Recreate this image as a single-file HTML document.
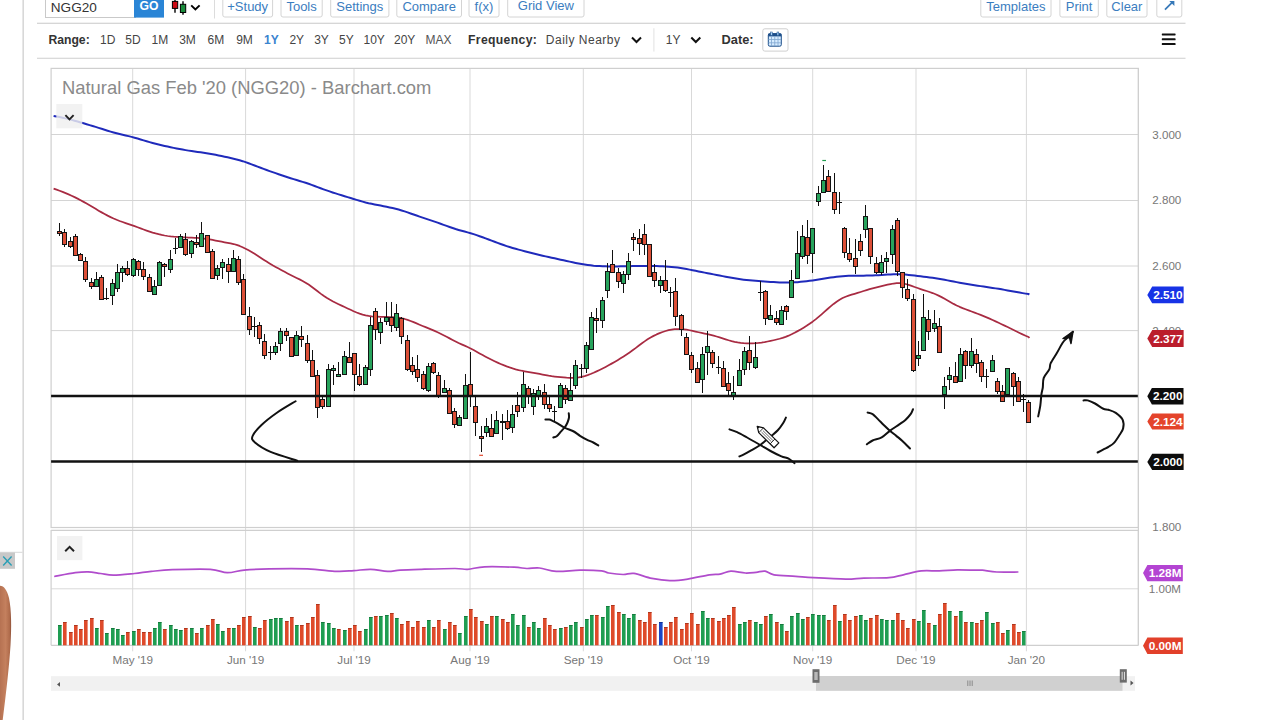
<!DOCTYPE html><html><head><meta charset="utf-8"><title>NGG20 Barchart</title><style>
html,body{margin:0;padding:0;background:#fff;}body{width:1280px;height:720px;overflow:hidden;position:relative;}
svg{position:absolute;left:0;top:0;display:block;}
text{font-family:"Liberation Sans", Arial, sans-serif;}
</style></head><body>
<svg width="1280" height="720" viewBox="0 0 1280 720">
<rect x="0" y="0" width="1280" height="720" fill="#fff"/>
<rect x="22.5" y="0" width="1.3" height="720" fill="#cfcfcf"/>
<rect x="37" y="22.7" width="1148.5" height="1.2" fill="#d2d2d2"/>
<rect x="37" y="57.7" width="1148.5" height="1.2" fill="#d6d6d6"/>
<rect x="45.5" y="-5" width="90" height="22.5" fill="#fff" stroke="#c9c9c9" stroke-width="1"/>
<text x="50.8" y="12.1" font-size="13.6" fill="#333">NGG20</text>
<rect x="134" y="-5" width="30" height="22.6" fill="#2a85d6"/>
<text x="149" y="10.3" font-size="12.2" font-weight="bold" fill="#fff" text-anchor="middle">GO</text>
<line x1="175" y1="0" x2="175" y2="12.7" stroke="#000" stroke-width="1.4"/>
<rect x="172.4" y="1.4" width="5.3" height="7" fill="#cc0a14" stroke="#000" stroke-width="1"/>
<line x1="183" y1="1.2" x2="183" y2="14.8" stroke="#000" stroke-width="1.4"/>
<rect x="180.4" y="4.3" width="5.3" height="8.2" fill="#1a8c3c" stroke="#000" stroke-width="1"/>
<polyline points="191.2,5.3 195.4,9.5 199.6,5.3" fill="none" stroke="#000" stroke-width="1.9"/>
<rect x="214" y="0" width="1" height="18.5" fill="#dcdcdc"/>
<rect x="222.8" y="-6" width="49.8" height="23" rx="2" fill="#fff" stroke="#d4d4d4" stroke-width="1"/>
<text x="247.7" y="11.3" font-size="13" fill="#3b7dc0" text-anchor="middle">+Study</text>
<rect x="281" y="-6" width="41.2" height="23" rx="2" fill="#fff" stroke="#d4d4d4" stroke-width="1"/>
<text x="301.6" y="11.3" font-size="13" fill="#3b7dc0" text-anchor="middle">Tools</text>
<rect x="330.7" y="-6" width="58.2" height="23" rx="2" fill="#fff" stroke="#d4d4d4" stroke-width="1"/>
<text x="359.8" y="11.3" font-size="13" fill="#3b7dc0" text-anchor="middle">Settings</text>
<rect x="396.8" y="-6" width="64.7" height="23" rx="2" fill="#fff" stroke="#d4d4d4" stroke-width="1"/>
<text x="429.15" y="11.3" font-size="13" fill="#3b7dc0" text-anchor="middle">Compare</text>
<rect x="469" y="-6" width="30" height="23" rx="2" fill="#fff" stroke="#d4d4d4" stroke-width="1"/>
<text x="484" y="11.3" font-size="13" fill="#3b7dc0" text-anchor="middle">f(x)</text>
<rect x="507.7" y="-6" width="76.3" height="23" rx="2" fill="#fff" stroke="#d4d4d4" stroke-width="1"/>
<text x="545.85" y="9.6" font-size="13" fill="#3b7dc0" text-anchor="middle">Grid View</text>
<rect x="980.8" y="-6" width="70.2" height="23" rx="2" fill="#fff" stroke="#d4d4d4" stroke-width="1"/>
<text x="1015.9" y="11.3" font-size="13" fill="#3b7dc0" text-anchor="middle">Templates</text>
<rect x="1059.9" y="-6" width="38.4" height="23" rx="2" fill="#fff" stroke="#d4d4d4" stroke-width="1"/>
<text x="1079.1" y="11.3" font-size="13" fill="#3b7dc0" text-anchor="middle">Print</text>
<rect x="1106.8" y="-6" width="40.2" height="23" rx="2" fill="#fff" stroke="#d4d4d4" stroke-width="1"/>
<text x="1126.9" y="11.3" font-size="13" fill="#3b7dc0" text-anchor="middle">Clear</text>
<rect x="1156.8" y="-6" width="25" height="23" rx="2" fill="#fff" stroke="#d4d4d4" stroke-width="1"/>
<line x1="1165" y1="9.6" x2="1172.2" y2="2.4" stroke="#3678b8" stroke-width="1.7"/>
<polygon points="1169.3,1 1174.4,1 1174.4,6" fill="#3678b8"/>
<text x="48.4" y="43.6" font-size="12.2" font-weight="bold" fill="#333">Range:</text>
<text x="100" y="43.6" font-size="12" fill="#444">1D</text>
<text x="125.3" y="43.6" font-size="12" fill="#444">5D</text>
<text x="151.6" y="43.6" font-size="12" fill="#444">1M</text>
<text x="179.2" y="43.6" font-size="12" fill="#444">3M</text>
<text x="207.5" y="43.6" font-size="12" fill="#444">6M</text>
<text x="236.2" y="43.6" font-size="12" fill="#444">9M</text>
<text x="264" y="43.6" font-size="12" fill="#3a84cf" font-weight="bold">1Y</text>
<text x="289.4" y="43.6" font-size="12" fill="#444">2Y</text>
<text x="314.2" y="43.6" font-size="12" fill="#444">3Y</text>
<text x="339.1" y="43.6" font-size="12" fill="#444">5Y</text>
<text x="363.5" y="43.6" font-size="12" fill="#444">10Y</text>
<text x="394" y="43.6" font-size="12" fill="#444">20Y</text>
<text x="425.5" y="43.6" font-size="12" fill="#555">MAX</text>
<text x="468" y="43.6" font-size="12.2" font-weight="bold" fill="#333" letter-spacing="0.35">Frequency:</text>
<text x="545.8" y="43.6" font-size="12" fill="#444" letter-spacing="0.5">Daily Nearby</text>
<polyline points="632,37.5 636.5,42 641,37.5" fill="none" stroke="#111" stroke-width="2"/>
<rect x="653.4" y="28.2" width="1" height="23.4" fill="#e2e2e2"/>
<text x="665.8" y="43.6" font-size="12" fill="#444">1Y</text>
<polyline points="691.3,37.5 695.8,42 700.3,37.5" fill="none" stroke="#111" stroke-width="2"/>
<text x="721.6" y="43.6" font-size="12.8" font-weight="bold" fill="#333">Date:</text>
<rect x="762.8" y="28.8" width="25.2" height="22.3" rx="2" fill="#fff" stroke="#cfcfcf" stroke-width="1"/>
<rect x="768.3" y="33.6" width="13" height="12.6" rx="1.5" fill="#d6ecff" stroke="#1d4f8a" stroke-width="1"/>
<rect x="768.3" y="33.6" width="13" height="2.8" fill="#1d4f8a"/>
<line x1="771.5" y1="36.5" x2="771.5" y2="46" stroke="#7fa6cf" stroke-width="0.8"/>
<line x1="774.75" y1="36.5" x2="774.75" y2="46" stroke="#7fa6cf" stroke-width="0.8"/>
<line x1="778" y1="36.5" x2="778" y2="46" stroke="#7fa6cf" stroke-width="0.8"/>
<line x1="768.5" y1="39.5" x2="781" y2="39.5" stroke="#7fa6cf" stroke-width="0.8"/>
<line x1="768.5" y1="42.8" x2="781" y2="42.8" stroke="#7fa6cf" stroke-width="0.8"/>
<rect x="770.6" y="32" width="1.8" height="3.4" fill="#a9d2f5" stroke="#1d4f8a" stroke-width="0.5"/>
<rect x="777" y="32" width="1.8" height="3.4" fill="#a9d2f5" stroke="#1d4f8a" stroke-width="0.5"/>
<rect x="1161.8" y="33.4" width="13.8" height="2" rx="0.6" fill="#111"/>
<rect x="1161.8" y="38.3" width="13.8" height="2" rx="0.6" fill="#111"/>
<rect x="1161.8" y="43.1" width="13.8" height="2" rx="0.6" fill="#111"/>
<line x1="132.7" y1="68.4" x2="132.7" y2="651.3" stroke="#d9d9d9" stroke-width="1"/>
<line x1="245.6" y1="68.4" x2="245.6" y2="651.3" stroke="#d9d9d9" stroke-width="1"/>
<line x1="354" y1="68.4" x2="354" y2="651.3" stroke="#d9d9d9" stroke-width="1"/>
<line x1="470" y1="68.4" x2="470" y2="651.3" stroke="#d9d9d9" stroke-width="1"/>
<line x1="583.3" y1="68.4" x2="583.3" y2="651.3" stroke="#d9d9d9" stroke-width="1"/>
<line x1="691.5" y1="68.4" x2="691.5" y2="651.3" stroke="#d9d9d9" stroke-width="1"/>
<line x1="812.7" y1="68.4" x2="812.7" y2="651.3" stroke="#d9d9d9" stroke-width="1"/>
<line x1="916" y1="68.4" x2="916" y2="651.3" stroke="#d9d9d9" stroke-width="1"/>
<line x1="1026.4" y1="68.4" x2="1026.4" y2="651.3" stroke="#d9d9d9" stroke-width="1"/>
<line x1="51.1" y1="134.5" x2="1138.4" y2="134.5" stroke="#d4d4d4" stroke-width="1"/>
<line x1="51.1" y1="200.5" x2="1138.4" y2="200.5" stroke="#d4d4d4" stroke-width="1"/>
<line x1="51.1" y1="266" x2="1138.4" y2="266" stroke="#d4d4d4" stroke-width="1"/>
<line x1="51.1" y1="330.6" x2="1138.4" y2="330.6" stroke="#d4d4d4" stroke-width="1"/>
<line x1="51.1" y1="588.8" x2="1138.4" y2="588.8" stroke="#d9d9d9" stroke-width="1"/>
<rect x="51.1" y="68.4" width="1087.3" height="459.1" fill="none" stroke="#cfcfcf" stroke-width="1.2"/>
<line x1="51.1" y1="530.3" x2="1138.4" y2="530.3" stroke="#cfcfcf" stroke-width="1.2"/>
<line x1="51.1" y1="530" x2="51.1" y2="645.3" stroke="#cfcfcf" stroke-width="1.2"/>
<line x1="1138.4" y1="530" x2="1138.4" y2="645.3" stroke="#cfcfcf" stroke-width="1.2"/>
<line x1="51.1" y1="645.3" x2="1138.4" y2="645.3" stroke="#cfcfcf" stroke-width="1.2"/>
<text x="62" y="93.8" font-size="18.4" fill="#8a8a8a">Natural Gas Feb '20 (NGG20) - Barchart.com</text>
<rect x="57" y="536" width="25.4" height="24.2" fill="#f2f2f2"/>
<polyline points="65.2,551.2 69.6,546.9 74,551.2" fill="none" stroke="#222" stroke-width="2"/>
<path d="M53.6,115.90 L56.6,116.49 L59.6,117.09 L62.6,117.71 L65.6,118.37 L68.6,119.07 L71.6,119.85 L74.6,120.67 L77.6,121.54 L80.6,122.42 L83.6,123.32 L86.6,124.21 L89.6,125.10 L92.6,126.00 L95.6,126.91 L98.6,127.84 L101.6,128.79 L104.6,129.75 L107.6,130.70 L110.6,131.62 L113.6,132.49 L116.6,133.29 L119.6,134.03 L122.6,134.73 L125.6,135.42 L128.6,136.13 L131.6,136.88 L134.6,137.69 L137.6,138.55 L140.6,139.46 L143.6,140.37 L146.6,141.28 L149.6,142.15 L152.6,142.98 L155.6,143.77 L158.6,144.51 L161.6,145.23 L164.6,145.93 L167.6,146.60 L170.6,147.26 L173.6,147.88 L176.6,148.47 L179.6,149.05 L182.6,149.60 L185.6,150.13 L188.6,150.63 L191.6,151.09 L194.6,151.51 L197.6,151.90 L200.6,152.29 L203.6,152.71 L206.6,153.17 L209.6,153.68 L212.6,154.24 L215.6,154.82 L218.6,155.42 L221.6,156.03 L224.6,156.66 L227.6,157.30 L230.6,157.97 L233.6,158.69 L236.6,159.45 L239.6,160.28 L242.6,161.17 L245.6,162.14 L248.6,163.20 L251.6,164.32 L254.6,165.48 L257.6,166.65 L260.6,167.80 L263.6,168.92 L266.6,170.02 L269.6,171.09 L272.6,172.14 L275.6,173.17 L278.6,174.20 L281.6,175.21 L284.6,176.22 L287.6,177.21 L290.6,178.18 L293.6,179.12 L296.6,180.04 L299.6,180.95 L302.6,181.86 L305.6,182.80 L308.6,183.79 L311.6,184.84 L314.6,185.95 L317.6,187.08 L320.6,188.21 L323.6,189.32 L326.6,190.39 L329.6,191.42 L332.6,192.43 L335.6,193.41 L338.6,194.38 L341.6,195.32 L344.6,196.25 L347.6,197.16 L350.6,198.06 L353.6,198.97 L356.6,199.87 L359.6,200.77 L362.6,201.63 L365.6,202.45 L368.6,203.19 L371.6,203.85 L374.6,204.46 L377.6,205.03 L380.6,205.60 L383.6,206.19 L386.6,206.79 L389.6,207.41 L392.6,208.07 L395.6,208.78 L398.6,209.57 L401.6,210.44 L404.6,211.40 L407.6,212.41 L410.6,213.46 L413.6,214.52 L416.6,215.56 L419.6,216.59 L422.6,217.61 L425.6,218.62 L428.6,219.62 L431.6,220.62 L434.6,221.64 L437.6,222.67 L440.6,223.73 L443.6,224.82 L446.6,225.91 L449.6,227.00 L452.6,228.05 L455.6,229.04 L458.6,229.95 L461.6,230.79 L464.6,231.59 L467.6,232.39 L470.6,233.24 L473.6,234.16 L476.6,235.16 L479.6,236.20 L482.6,237.28 L485.6,238.38 L488.6,239.49 L491.6,240.62 L494.6,241.75 L497.6,242.88 L500.6,243.99 L503.6,245.06 L506.6,246.08 L509.6,247.03 L512.6,247.92 L515.6,248.77 L518.6,249.60 L521.6,250.40 L524.6,251.19 L527.6,251.96 L530.6,252.72 L533.6,253.47 L536.6,254.21 L539.6,254.94 L542.6,255.66 L545.6,256.35 L548.6,257.03 L551.6,257.69 L554.6,258.35 L557.6,259.00 L560.6,259.65 L563.6,260.31 L566.6,260.97 L569.6,261.63 L572.6,262.28 L575.6,262.91 L578.6,263.50 L581.6,264.04 L584.6,264.52 L587.6,264.94 L590.6,265.31 L593.6,265.64 L596.6,265.90 L599.6,266.10 L602.6,266.25 L605.6,266.36 L608.6,266.43 L611.6,266.46 L614.6,266.45 L617.6,266.42 L620.6,266.36 L623.6,266.29 L626.6,266.22 L629.6,266.15 L632.6,266.08 L635.6,266.03 L638.6,265.98 L641.6,265.94 L644.6,265.92 L647.6,265.91 L650.6,265.94 L653.6,266.00 L656.6,266.08 L659.6,266.18 L662.6,266.31 L665.6,266.45 L668.6,266.64 L671.6,266.89 L674.6,267.20 L677.6,267.59 L680.6,268.03 L683.6,268.52 L686.6,269.06 L689.6,269.63 L692.6,270.22 L695.6,270.82 L698.6,271.42 L701.6,272.02 L704.6,272.62 L707.6,273.21 L710.6,273.80 L713.6,274.39 L716.6,274.98 L719.6,275.56 L722.6,276.13 L725.6,276.70 L728.6,277.26 L731.6,277.81 L734.6,278.34 L737.6,278.82 L740.6,279.26 L743.6,279.64 L746.6,279.97 L749.6,280.27 L752.6,280.55 L755.6,280.82 L758.6,281.07 L761.6,281.31 L764.6,281.53 L767.6,281.74 L770.6,281.94 L773.6,282.11 L776.6,282.28 L779.6,282.42 L782.6,282.53 L785.6,282.60 L788.6,282.60 L791.6,282.53 L794.6,282.37 L797.6,282.15 L800.6,281.87 L803.6,281.55 L806.6,281.21 L809.6,280.84 L812.6,280.43 L815.6,279.98 L818.6,279.49 L821.6,278.99 L824.6,278.49 L827.6,278.02 L830.6,277.58 L833.6,277.18 L836.6,276.82 L839.6,276.50 L842.6,276.21 L845.6,275.98 L848.6,275.82 L851.6,275.72 L854.6,275.67 L857.6,275.66 L860.6,275.65 L863.6,275.64 L866.6,275.62 L869.6,275.56 L872.6,275.46 L875.6,275.32 L878.6,275.16 L881.6,274.97 L884.6,274.78 L887.6,274.59 L890.6,274.41 L893.6,274.29 L896.6,274.23 L899.6,274.28 L902.6,274.41 L905.6,274.62 L908.6,274.89 L911.6,275.20 L914.6,275.55 L917.6,275.91 L920.6,276.29 L923.6,276.66 L926.6,277.04 L929.6,277.42 L932.6,277.82 L935.6,278.25 L938.6,278.71 L941.6,279.23 L944.6,279.79 L947.6,280.37 L950.6,280.96 L953.6,281.54 L956.6,282.11 L959.6,282.65 L962.6,283.18 L965.6,283.69 L968.6,284.20 L971.6,284.70 L974.6,285.19 L977.6,285.66 L980.6,286.12 L983.6,286.57 L986.6,287.01 L989.6,287.46 L992.6,287.91 L995.6,288.37 L998.6,288.86 L1001.6,289.36 L1004.6,289.87 L1007.6,290.40 L1010.6,290.94 L1013.6,291.48 L1016.6,292.03 L1019.6,292.58 L1022.6,293.12 L1025.6,293.62 L1028.6,294.08 L1029.4,294.50" fill="none" stroke="#1f2abb" stroke-width="2" stroke-linejoin="round"/>
<path d="M53.6,188.60 L56.6,189.68 L59.6,190.79 L62.6,191.93 L65.6,193.14 L68.6,194.41 L71.6,195.75 L74.6,197.16 L77.6,198.64 L80.6,200.21 L83.6,201.86 L86.6,203.57 L89.6,205.32 L92.6,207.09 L95.6,208.86 L98.6,210.63 L101.6,212.37 L104.6,214.04 L107.6,215.63 L110.6,217.12 L113.6,218.50 L116.6,219.77 L119.6,220.95 L122.6,222.03 L125.6,223.05 L128.6,224.05 L131.6,225.08 L134.6,226.14 L137.6,227.24 L140.6,228.37 L143.6,229.48 L146.6,230.57 L149.6,231.60 L152.6,232.56 L155.6,233.44 L158.6,234.22 L161.6,234.91 L164.6,235.50 L167.6,236.00 L170.6,236.40 L173.6,236.72 L176.6,236.96 L179.6,237.14 L182.6,237.29 L185.6,237.41 L188.6,237.53 L191.6,237.65 L194.6,237.80 L197.6,237.99 L200.6,238.25 L203.6,238.57 L206.6,238.97 L209.6,239.44 L212.6,239.98 L215.6,240.56 L218.6,241.16 L221.6,241.73 L224.6,242.27 L227.6,242.79 L230.6,243.35 L233.6,244.03 L236.6,244.88 L239.6,245.94 L242.6,247.21 L245.6,248.68 L248.6,250.30 L251.6,252.04 L254.6,253.87 L257.6,255.77 L260.6,257.71 L263.6,259.66 L266.6,261.59 L269.6,263.45 L272.6,265.23 L275.6,266.92 L278.6,268.56 L281.6,270.19 L284.6,271.81 L287.6,273.40 L290.6,274.95 L293.6,276.45 L296.6,277.92 L299.6,279.40 L302.6,280.96 L305.6,282.68 L308.6,284.59 L311.6,286.69 L314.6,288.95 L317.6,291.28 L320.6,293.59 L323.6,295.76 L326.6,297.75 L329.6,299.55 L332.6,301.21 L335.6,302.76 L338.6,304.22 L341.6,305.63 L344.6,307.03 L347.6,308.42 L350.6,309.81 L353.6,311.18 L356.6,312.47 L359.6,313.64 L362.6,314.63 L365.6,315.40 L368.6,315.95 L371.6,316.32 L374.6,316.56 L377.6,316.71 L380.6,316.81 L383.6,316.88 L386.6,316.94 L389.6,317.01 L392.6,317.13 L395.6,317.35 L398.6,317.70 L401.6,318.23 L404.6,318.97 L407.6,319.89 L410.6,320.97 L413.6,322.17 L416.6,323.43 L419.6,324.70 L422.6,325.96 L425.6,327.18 L428.6,328.38 L431.6,329.61 L434.6,330.89 L437.6,332.26 L440.6,333.70 L443.6,335.22 L446.6,336.79 L449.6,338.38 L452.6,339.96 L455.6,341.50 L458.6,342.96 L461.6,344.33 L464.6,345.66 L467.6,347.01 L470.6,348.44 L473.6,350.00 L476.6,351.67 L479.6,353.39 L482.6,355.09 L485.6,356.73 L488.6,358.30 L491.6,359.80 L494.6,361.25 L497.6,362.62 L500.6,363.93 L503.6,365.18 L506.6,366.35 L509.6,367.44 L512.6,368.42 L515.6,369.30 L518.6,370.06 L521.6,370.73 L524.6,371.32 L527.6,371.85 L530.6,372.34 L533.6,372.84 L536.6,373.37 L539.6,373.95 L542.6,374.57 L545.6,375.16 L548.6,375.71 L551.6,376.17 L554.6,376.55 L557.6,376.88 L560.6,377.17 L563.6,377.43 L566.6,377.66 L569.6,377.80 L572.6,377.83 L575.6,377.70 L578.6,377.38 L581.6,376.83 L584.6,376.07 L587.6,375.12 L590.6,374.01 L593.6,372.77 L596.6,371.42 L599.6,369.99 L602.6,368.48 L605.6,366.91 L608.6,365.29 L611.6,363.63 L614.6,361.91 L617.6,360.15 L620.6,358.32 L623.6,356.44 L626.6,354.48 L629.6,352.44 L632.6,350.31 L635.6,348.09 L638.6,345.82 L641.6,343.55 L644.6,341.36 L647.6,339.33 L650.6,337.49 L653.6,335.87 L656.6,334.42 L659.6,333.12 L662.6,331.98 L665.6,331.00 L668.6,330.19 L671.6,329.59 L674.6,329.22 L677.6,329.05 L680.6,329.10 L683.6,329.32 L686.6,329.72 L689.6,330.25 L692.6,330.89 L695.6,331.57 L698.6,332.24 L701.6,332.89 L704.6,333.52 L707.6,334.17 L710.6,334.87 L713.6,335.64 L716.6,336.49 L719.6,337.40 L722.6,338.37 L725.6,339.34 L728.6,340.26 L731.6,341.08 L734.6,341.78 L737.6,342.36 L740.6,342.82 L743.6,343.15 L746.6,343.34 L749.6,343.40 L752.6,343.33 L755.6,343.16 L758.6,342.89 L761.6,342.52 L764.6,342.05 L767.6,341.50 L770.6,340.89 L773.6,340.23 L776.6,339.52 L779.6,338.75 L782.6,337.88 L785.6,336.87 L788.6,335.67 L791.6,334.29 L794.6,332.76 L797.6,331.11 L800.6,329.40 L803.6,327.63 L806.6,325.79 L809.6,323.82 L812.6,321.68 L815.6,319.36 L818.6,316.88 L821.6,314.29 L824.6,311.65 L827.6,309.02 L830.6,306.43 L833.6,303.95 L836.6,301.68 L839.6,299.69 L842.6,298.05 L845.6,296.72 L848.6,295.64 L851.6,294.70 L854.6,293.82 L857.6,292.93 L860.6,292.01 L863.6,291.04 L866.6,290.08 L869.6,289.17 L872.6,288.34 L875.6,287.59 L878.6,286.87 L881.6,286.15 L884.6,285.41 L887.6,284.69 L890.6,284.04 L893.6,283.51 L896.6,283.19 L899.6,283.14 L902.6,283.41 L905.6,284.00 L908.6,284.84 L911.6,285.86 L914.6,286.95 L917.6,288.03 L920.6,289.07 L923.6,290.05 L926.6,291.02 L929.6,292.00 L932.6,293.05 L935.6,294.24 L938.6,295.60 L941.6,297.13 L944.6,298.80 L947.6,300.53 L950.6,302.25 L953.6,303.90 L956.6,305.43 L959.6,306.82 L962.6,308.09 L965.6,309.27 L968.6,310.40 L971.6,311.51 L974.6,312.62 L977.6,313.75 L980.6,314.91 L983.6,316.10 L986.6,317.35 L989.6,318.64 L992.6,319.98 L995.6,321.37 L998.6,322.78 L1001.6,324.19 L1004.6,325.61 L1007.6,327.04 L1010.6,328.48 L1013.6,329.94 L1016.6,331.43 L1019.6,332.93 L1022.6,334.38 L1025.6,335.73 L1028.6,336.96 L1029.4,338.10" fill="none" stroke="#a82b42" stroke-width="1.75" stroke-linejoin="round"/>
<rect x="56.3" y="104" width="26" height="24.3" fill="#efefef" opacity="0.82"/>
<polyline points="65.4,115.2 69.5,119.4 73.6,115.2" fill="none" stroke="#222" stroke-width="1.9"/>
<rect x="59" y="223" width="1" height="13" fill="#111"/>
<rect x="57" y="231" width="5" height="3" fill="#141414"/>
<rect x="58" y="232" width="3" height="1" fill="#dc4f37"/>
<rect x="64" y="229" width="1" height="18" fill="#111"/>
<rect x="62" y="232" width="5" height="13" fill="#141414"/>
<rect x="63" y="233" width="3" height="11" fill="#dc4f37"/>
<rect x="70" y="237" width="1" height="11" fill="#111"/>
<rect x="68" y="241" width="5" height="6" fill="#141414"/>
<rect x="69" y="242" width="3" height="4" fill="#dc4f37"/>
<rect x="75" y="234" width="1" height="21" fill="#111"/>
<rect x="73" y="236" width="5" height="20" fill="#141414"/>
<rect x="74" y="237" width="3" height="18" fill="#dc4f37"/>
<rect x="80" y="253" width="1" height="7" fill="#111"/>
<rect x="78" y="254" width="5" height="7" fill="#141414"/>
<rect x="79" y="255" width="3" height="5" fill="#dc4f37"/>
<rect x="85" y="257" width="1" height="25" fill="#111"/>
<rect x="83" y="261" width="5" height="19" fill="#141414"/>
<rect x="84" y="262" width="3" height="17" fill="#dc4f37"/>
<rect x="91" y="278" width="1" height="11" fill="#111"/>
<rect x="89" y="282" width="5" height="5" fill="#141414"/>
<rect x="90" y="283" width="3" height="3" fill="#dc4f37"/>
<rect x="96" y="272" width="1" height="14" fill="#111"/>
<rect x="94" y="279" width="5" height="8" fill="#141414"/>
<rect x="95" y="280" width="3" height="6" fill="#27a35c"/>
<rect x="101" y="275" width="1" height="24" fill="#111"/>
<rect x="99" y="277" width="5" height="23" fill="#141414"/>
<rect x="100" y="278" width="3" height="21" fill="#dc4f37"/>
<rect x="106" y="288" width="1" height="12" fill="#111"/>
<rect x="104" y="298" width="5" height="1" fill="#111"/>
<rect x="112" y="279" width="1" height="26" fill="#111"/>
<rect x="110" y="283" width="5" height="13" fill="#141414"/>
<rect x="111" y="284" width="3" height="11" fill="#27a35c"/>
<rect x="117" y="264" width="1" height="28" fill="#111"/>
<rect x="115" y="272" width="5" height="17" fill="#141414"/>
<rect x="116" y="273" width="3" height="15" fill="#27a35c"/>
<rect x="122" y="266" width="1" height="16" fill="#111"/>
<rect x="120" y="268" width="5" height="5" fill="#141414"/>
<rect x="121" y="269" width="3" height="3" fill="#27a35c"/>
<rect x="127" y="261" width="1" height="15" fill="#111"/>
<rect x="125" y="268" width="5" height="7" fill="#141414"/>
<rect x="126" y="269" width="3" height="5" fill="#dc4f37"/>
<rect x="133" y="258" width="1" height="19" fill="#111"/>
<rect x="131" y="259" width="5" height="17" fill="#141414"/>
<rect x="132" y="260" width="3" height="15" fill="#27a35c"/>
<rect x="138" y="260" width="1" height="16" fill="#111"/>
<rect x="136" y="261" width="5" height="9" fill="#141414"/>
<rect x="137" y="262" width="3" height="7" fill="#dc4f37"/>
<rect x="143" y="262" width="1" height="18" fill="#111"/>
<rect x="141" y="269" width="5" height="8" fill="#141414"/>
<rect x="142" y="270" width="3" height="6" fill="#dc4f37"/>
<rect x="149" y="274" width="1" height="18" fill="#111"/>
<rect x="147" y="277" width="5" height="15" fill="#141414"/>
<rect x="148" y="278" width="3" height="13" fill="#dc4f37"/>
<rect x="154" y="280" width="1" height="14" fill="#111"/>
<rect x="152" y="286" width="5" height="9" fill="#141414"/>
<rect x="153" y="287" width="3" height="7" fill="#27a35c"/>
<rect x="159" y="261" width="1" height="25" fill="#111"/>
<rect x="157" y="262" width="5" height="24" fill="#141414"/>
<rect x="158" y="263" width="3" height="22" fill="#27a35c"/>
<rect x="164" y="263" width="1" height="14" fill="#111"/>
<rect x="162" y="264" width="5" height="3" fill="#141414"/>
<rect x="163" y="265" width="3" height="1" fill="#dc4f37"/>
<rect x="170" y="250" width="1" height="23" fill="#111"/>
<rect x="168" y="259" width="5" height="11" fill="#141414"/>
<rect x="169" y="260" width="3" height="9" fill="#27a35c"/>
<rect x="175" y="238" width="1" height="16" fill="#111"/>
<rect x="173" y="248" width="5" height="1" fill="#111"/>
<rect x="180" y="234" width="1" height="14" fill="#111"/>
<rect x="178" y="236" width="5" height="12" fill="#141414"/>
<rect x="179" y="237" width="3" height="10" fill="#27a35c"/>
<rect x="185" y="233" width="1" height="23" fill="#111"/>
<rect x="183" y="239" width="5" height="16" fill="#141414"/>
<rect x="184" y="240" width="3" height="14" fill="#dc4f37"/>
<rect x="191" y="240" width="1" height="18" fill="#111"/>
<rect x="189" y="241" width="5" height="13" fill="#141414"/>
<rect x="190" y="242" width="3" height="11" fill="#27a35c"/>
<rect x="196" y="235" width="1" height="13" fill="#111"/>
<rect x="194" y="242" width="5" height="3" fill="#141414"/>
<rect x="195" y="243" width="3" height="1" fill="#dc4f37"/>
<rect x="201" y="222" width="1" height="24" fill="#111"/>
<rect x="199" y="233" width="5" height="14" fill="#141414"/>
<rect x="200" y="234" width="3" height="12" fill="#27a35c"/>
<rect x="207" y="235" width="1" height="18" fill="#111"/>
<rect x="205" y="235" width="5" height="18" fill="#141414"/>
<rect x="206" y="236" width="3" height="16" fill="#dc4f37"/>
<rect x="212" y="249" width="1" height="30" fill="#111"/>
<rect x="210" y="251" width="5" height="28" fill="#141414"/>
<rect x="211" y="252" width="3" height="26" fill="#dc4f37"/>
<rect x="217" y="265" width="1" height="15" fill="#111"/>
<rect x="215" y="268" width="5" height="8" fill="#141414"/>
<rect x="216" y="269" width="3" height="6" fill="#27a35c"/>
<rect x="222" y="259" width="1" height="20" fill="#111"/>
<rect x="220" y="262" width="5" height="6" fill="#141414"/>
<rect x="221" y="263" width="3" height="4" fill="#27a35c"/>
<rect x="228" y="258" width="1" height="25" fill="#111"/>
<rect x="226" y="264" width="5" height="8" fill="#141414"/>
<rect x="227" y="265" width="3" height="6" fill="#dc4f37"/>
<rect x="233" y="250" width="1" height="21" fill="#111"/>
<rect x="231" y="258" width="5" height="14" fill="#141414"/>
<rect x="232" y="259" width="3" height="12" fill="#27a35c"/>
<rect x="238" y="256" width="1" height="29" fill="#111"/>
<rect x="236" y="259" width="5" height="24" fill="#141414"/>
<rect x="237" y="260" width="3" height="22" fill="#dc4f37"/>
<rect x="243" y="274" width="1" height="41" fill="#111"/>
<rect x="241" y="279" width="5" height="36" fill="#141414"/>
<rect x="242" y="280" width="3" height="34" fill="#dc4f37"/>
<rect x="249" y="307" width="1" height="28" fill="#111"/>
<rect x="247" y="316" width="5" height="14" fill="#141414"/>
<rect x="248" y="317" width="3" height="12" fill="#dc4f37"/>
<rect x="254" y="317" width="1" height="20" fill="#111"/>
<rect x="252" y="326" width="5" height="1" fill="#111"/>
<rect x="259" y="322" width="1" height="22" fill="#111"/>
<rect x="257" y="325" width="5" height="14" fill="#141414"/>
<rect x="258" y="326" width="3" height="12" fill="#dc4f37"/>
<rect x="264" y="334" width="1" height="25" fill="#111"/>
<rect x="262" y="341" width="5" height="15" fill="#141414"/>
<rect x="263" y="342" width="3" height="13" fill="#dc4f37"/>
<rect x="270" y="346" width="1" height="14" fill="#111"/>
<rect x="268" y="352" width="5" height="1" fill="#111"/>
<rect x="275" y="342" width="1" height="13" fill="#111"/>
<rect x="273" y="346" width="5" height="7" fill="#141414"/>
<rect x="274" y="347" width="3" height="5" fill="#27a35c"/>
<rect x="280" y="328" width="1" height="23" fill="#111"/>
<rect x="278" y="331" width="5" height="13" fill="#141414"/>
<rect x="279" y="332" width="3" height="11" fill="#27a35c"/>
<rect x="286" y="328" width="1" height="13" fill="#111"/>
<rect x="284" y="331" width="5" height="5" fill="#141414"/>
<rect x="285" y="332" width="3" height="3" fill="#dc4f37"/>
<rect x="291" y="337" width="1" height="19" fill="#111"/>
<rect x="289" y="337" width="5" height="20" fill="#141414"/>
<rect x="290" y="338" width="3" height="18" fill="#dc4f37"/>
<rect x="296" y="331" width="1" height="24" fill="#111"/>
<rect x="294" y="335" width="5" height="21" fill="#141414"/>
<rect x="295" y="336" width="3" height="19" fill="#27a35c"/>
<rect x="301" y="326" width="1" height="21" fill="#111"/>
<rect x="299" y="336" width="5" height="4" fill="#141414"/>
<rect x="300" y="337" width="3" height="2" fill="#dc4f37"/>
<rect x="307" y="335" width="1" height="28" fill="#111"/>
<rect x="305" y="343" width="5" height="18" fill="#141414"/>
<rect x="306" y="344" width="3" height="16" fill="#dc4f37"/>
<rect x="312" y="350" width="1" height="27" fill="#111"/>
<rect x="310" y="360" width="5" height="17" fill="#141414"/>
<rect x="311" y="361" width="3" height="15" fill="#dc4f37"/>
<rect x="317" y="370" width="1" height="48" fill="#111"/>
<rect x="315" y="375" width="5" height="33" fill="#141414"/>
<rect x="316" y="376" width="3" height="31" fill="#dc4f37"/>
<rect x="322" y="396" width="1" height="13" fill="#111"/>
<rect x="320" y="399" width="5" height="8" fill="#141414"/>
<rect x="321" y="400" width="3" height="6" fill="#dc4f37"/>
<rect x="328" y="364" width="1" height="42" fill="#111"/>
<rect x="326" y="369" width="5" height="38" fill="#141414"/>
<rect x="327" y="370" width="3" height="36" fill="#27a35c"/>
<rect x="333" y="365" width="1" height="20" fill="#111"/>
<rect x="331" y="368" width="5" height="3" fill="#141414"/>
<rect x="332" y="369" width="3" height="1" fill="#27a35c"/>
<rect x="338" y="362" width="1" height="15" fill="#111"/>
<rect x="336" y="374" width="5" height="3" fill="#141414"/>
<rect x="337" y="375" width="3" height="1" fill="#27a35c"/>
<rect x="344" y="351" width="1" height="24" fill="#111"/>
<rect x="342" y="356" width="5" height="19" fill="#141414"/>
<rect x="343" y="357" width="3" height="17" fill="#27a35c"/>
<rect x="349" y="342" width="1" height="20" fill="#111"/>
<rect x="347" y="357" width="5" height="6" fill="#141414"/>
<rect x="348" y="358" width="3" height="4" fill="#dc4f37"/>
<rect x="354" y="353" width="1" height="38" fill="#111"/>
<rect x="352" y="353" width="5" height="22" fill="#141414"/>
<rect x="353" y="354" width="3" height="20" fill="#dc4f37"/>
<rect x="359" y="364" width="1" height="22" fill="#111"/>
<rect x="357" y="376" width="5" height="9" fill="#141414"/>
<rect x="358" y="377" width="3" height="7" fill="#dc4f37"/>
<rect x="365" y="365" width="1" height="19" fill="#111"/>
<rect x="363" y="367" width="5" height="18" fill="#141414"/>
<rect x="364" y="368" width="3" height="16" fill="#27a35c"/>
<rect x="370" y="317" width="1" height="59" fill="#111"/>
<rect x="368" y="325" width="5" height="45" fill="#141414"/>
<rect x="369" y="326" width="3" height="43" fill="#27a35c"/>
<rect x="375" y="308" width="1" height="32" fill="#111"/>
<rect x="373" y="311" width="5" height="19" fill="#141414"/>
<rect x="374" y="312" width="3" height="17" fill="#dc4f37"/>
<rect x="380" y="318" width="1" height="26" fill="#111"/>
<rect x="378" y="322" width="5" height="11" fill="#141414"/>
<rect x="379" y="323" width="3" height="9" fill="#27a35c"/>
<rect x="386" y="302" width="1" height="23" fill="#111"/>
<rect x="384" y="317" width="5" height="5" fill="#141414"/>
<rect x="385" y="318" width="3" height="3" fill="#27a35c"/>
<rect x="391" y="302" width="1" height="30" fill="#111"/>
<rect x="389" y="317" width="5" height="9" fill="#141414"/>
<rect x="390" y="318" width="3" height="7" fill="#dc4f37"/>
<rect x="396" y="304" width="1" height="27" fill="#111"/>
<rect x="394" y="313" width="5" height="15" fill="#141414"/>
<rect x="395" y="314" width="3" height="13" fill="#27a35c"/>
<rect x="401" y="317" width="1" height="27" fill="#111"/>
<rect x="399" y="318" width="5" height="19" fill="#141414"/>
<rect x="400" y="319" width="3" height="17" fill="#dc4f37"/>
<rect x="407" y="335" width="1" height="36" fill="#111"/>
<rect x="405" y="340" width="5" height="30" fill="#141414"/>
<rect x="406" y="341" width="3" height="28" fill="#dc4f37"/>
<rect x="412" y="357" width="1" height="18" fill="#111"/>
<rect x="410" y="365" width="5" height="7" fill="#141414"/>
<rect x="411" y="366" width="3" height="5" fill="#dc4f37"/>
<rect x="417" y="355" width="1" height="27" fill="#111"/>
<rect x="415" y="369" width="5" height="9" fill="#141414"/>
<rect x="416" y="370" width="3" height="7" fill="#dc4f37"/>
<rect x="423" y="371" width="1" height="19" fill="#111"/>
<rect x="421" y="374" width="5" height="15" fill="#141414"/>
<rect x="422" y="375" width="3" height="13" fill="#dc4f37"/>
<rect x="428" y="363" width="1" height="29" fill="#111"/>
<rect x="426" y="366" width="5" height="25" fill="#141414"/>
<rect x="427" y="367" width="3" height="23" fill="#27a35c"/>
<rect x="433" y="362" width="1" height="12" fill="#111"/>
<rect x="431" y="363" width="5" height="10" fill="#141414"/>
<rect x="432" y="364" width="3" height="8" fill="#dc4f37"/>
<rect x="438" y="372" width="1" height="26" fill="#111"/>
<rect x="436" y="375" width="5" height="22" fill="#141414"/>
<rect x="437" y="376" width="3" height="20" fill="#dc4f37"/>
<rect x="444" y="380" width="1" height="13" fill="#111"/>
<rect x="442" y="388" width="5" height="5" fill="#141414"/>
<rect x="443" y="389" width="3" height="3" fill="#27a35c"/>
<rect x="449" y="388" width="1" height="25" fill="#111"/>
<rect x="447" y="390" width="5" height="24" fill="#141414"/>
<rect x="448" y="391" width="3" height="22" fill="#dc4f37"/>
<rect x="454" y="408" width="1" height="20" fill="#111"/>
<rect x="452" y="411" width="5" height="14" fill="#141414"/>
<rect x="453" y="412" width="3" height="12" fill="#dc4f37"/>
<rect x="459" y="415" width="1" height="11" fill="#111"/>
<rect x="457" y="417" width="5" height="9" fill="#141414"/>
<rect x="458" y="418" width="3" height="7" fill="#27a35c"/>
<rect x="465" y="374" width="1" height="44" fill="#111"/>
<rect x="463" y="385" width="5" height="34" fill="#141414"/>
<rect x="464" y="386" width="3" height="32" fill="#27a35c"/>
<rect x="470" y="352" width="1" height="55" fill="#111"/>
<rect x="468" y="384" width="5" height="13" fill="#141414"/>
<rect x="469" y="385" width="3" height="11" fill="#dc4f37"/>
<rect x="475" y="397" width="1" height="39" fill="#111"/>
<rect x="473" y="406" width="5" height="17" fill="#141414"/>
<rect x="474" y="407" width="3" height="15" fill="#dc4f37"/>
<rect x="481" y="426" width="1" height="26" fill="#111"/>
<rect x="479" y="436" width="5" height="3" fill="#141414"/>
<rect x="480" y="437" width="3" height="1" fill="#dc4f37"/>
<rect x="486" y="418" width="1" height="19" fill="#111"/>
<rect x="484" y="426" width="5" height="7" fill="#141414"/>
<rect x="485" y="427" width="3" height="5" fill="#27a35c"/>
<rect x="491" y="414" width="1" height="22" fill="#111"/>
<rect x="489" y="428" width="5" height="9" fill="#141414"/>
<rect x="490" y="429" width="3" height="7" fill="#dc4f37"/>
<rect x="496" y="411" width="1" height="22" fill="#111"/>
<rect x="494" y="420" width="5" height="14" fill="#141414"/>
<rect x="495" y="421" width="3" height="12" fill="#27a35c"/>
<rect x="502" y="414" width="1" height="26" fill="#111"/>
<rect x="500" y="421" width="5" height="2" fill="#141414"/>
<rect x="507" y="410" width="1" height="20" fill="#111"/>
<rect x="505" y="421" width="5" height="8" fill="#141414"/>
<rect x="506" y="422" width="3" height="6" fill="#dc4f37"/>
<rect x="512" y="405" width="1" height="28" fill="#111"/>
<rect x="510" y="414" width="5" height="14" fill="#141414"/>
<rect x="511" y="415" width="3" height="12" fill="#27a35c"/>
<rect x="517" y="392" width="1" height="25" fill="#111"/>
<rect x="515" y="405" width="5" height="7" fill="#141414"/>
<rect x="516" y="406" width="3" height="5" fill="#dc4f37"/>
<rect x="523" y="372" width="1" height="40" fill="#111"/>
<rect x="521" y="384" width="5" height="24" fill="#141414"/>
<rect x="522" y="385" width="3" height="22" fill="#27a35c"/>
<rect x="528" y="386" width="1" height="18" fill="#111"/>
<rect x="526" y="388" width="5" height="8" fill="#141414"/>
<rect x="527" y="389" width="3" height="6" fill="#dc4f37"/>
<rect x="533" y="389" width="1" height="26" fill="#111"/>
<rect x="531" y="393" width="5" height="14" fill="#141414"/>
<rect x="532" y="394" width="3" height="12" fill="#27a35c"/>
<rect x="538" y="386" width="1" height="14" fill="#111"/>
<rect x="536" y="390" width="5" height="6" fill="#141414"/>
<rect x="537" y="391" width="3" height="4" fill="#27a35c"/>
<rect x="544" y="384" width="1" height="25" fill="#111"/>
<rect x="542" y="392" width="5" height="13" fill="#141414"/>
<rect x="543" y="393" width="3" height="11" fill="#dc4f37"/>
<rect x="549" y="396" width="1" height="16" fill="#111"/>
<rect x="547" y="404" width="5" height="5" fill="#141414"/>
<rect x="548" y="405" width="3" height="3" fill="#dc4f37"/>
<rect x="554" y="406" width="1" height="15" fill="#111"/>
<rect x="552" y="411" width="5" height="1" fill="#111"/>
<rect x="560" y="383" width="1" height="25" fill="#111"/>
<rect x="558" y="385" width="5" height="23" fill="#141414"/>
<rect x="559" y="386" width="3" height="21" fill="#27a35c"/>
<rect x="565" y="385" width="1" height="19" fill="#111"/>
<rect x="563" y="388" width="5" height="12" fill="#141414"/>
<rect x="564" y="389" width="3" height="10" fill="#dc4f37"/>
<rect x="570" y="373" width="1" height="28" fill="#111"/>
<rect x="568" y="390" width="5" height="11" fill="#141414"/>
<rect x="569" y="391" width="3" height="9" fill="#27a35c"/>
<rect x="575" y="360" width="1" height="29" fill="#111"/>
<rect x="573" y="365" width="5" height="21" fill="#141414"/>
<rect x="574" y="366" width="3" height="19" fill="#27a35c"/>
<rect x="581" y="364" width="1" height="14" fill="#111"/>
<rect x="579" y="368" width="5" height="1" fill="#111"/>
<rect x="586" y="342" width="1" height="31" fill="#111"/>
<rect x="584" y="345" width="5" height="24" fill="#141414"/>
<rect x="585" y="346" width="3" height="22" fill="#27a35c"/>
<rect x="591" y="312" width="1" height="38" fill="#111"/>
<rect x="589" y="317" width="5" height="33" fill="#141414"/>
<rect x="590" y="318" width="3" height="31" fill="#27a35c"/>
<rect x="596" y="308" width="1" height="25" fill="#111"/>
<rect x="594" y="318" width="5" height="3" fill="#141414"/>
<rect x="595" y="319" width="3" height="1" fill="#dc4f37"/>
<rect x="602" y="297" width="1" height="31" fill="#111"/>
<rect x="600" y="300" width="5" height="21" fill="#141414"/>
<rect x="601" y="301" width="3" height="19" fill="#27a35c"/>
<rect x="607" y="263" width="1" height="35" fill="#111"/>
<rect x="605" y="271" width="5" height="20" fill="#141414"/>
<rect x="606" y="272" width="3" height="18" fill="#27a35c"/>
<rect x="612" y="250" width="1" height="23" fill="#111"/>
<rect x="610" y="264" width="5" height="9" fill="#141414"/>
<rect x="611" y="265" width="3" height="7" fill="#dc4f37"/>
<rect x="618" y="268" width="1" height="20" fill="#111"/>
<rect x="616" y="272" width="5" height="10" fill="#141414"/>
<rect x="617" y="273" width="3" height="8" fill="#dc4f37"/>
<rect x="623" y="271" width="1" height="22" fill="#111"/>
<rect x="621" y="274" width="5" height="10" fill="#141414"/>
<rect x="622" y="275" width="3" height="8" fill="#27a35c"/>
<rect x="628" y="253" width="1" height="27" fill="#111"/>
<rect x="626" y="261" width="5" height="14" fill="#141414"/>
<rect x="627" y="262" width="3" height="12" fill="#27a35c"/>
<rect x="633" y="233" width="1" height="18" fill="#111"/>
<rect x="631" y="237" width="5" height="3" fill="#141414"/>
<rect x="632" y="238" width="3" height="1" fill="#dc4f37"/>
<rect x="639" y="229" width="1" height="26" fill="#111"/>
<rect x="637" y="238" width="5" height="6" fill="#141414"/>
<rect x="638" y="239" width="3" height="4" fill="#dc4f37"/>
<rect x="644" y="224" width="1" height="31" fill="#111"/>
<rect x="642" y="234" width="5" height="11" fill="#141414"/>
<rect x="643" y="235" width="3" height="9" fill="#dc4f37"/>
<rect x="649" y="244" width="1" height="32" fill="#111"/>
<rect x="647" y="244" width="5" height="33" fill="#141414"/>
<rect x="648" y="245" width="3" height="31" fill="#dc4f37"/>
<rect x="654" y="264" width="1" height="23" fill="#111"/>
<rect x="652" y="272" width="5" height="9" fill="#141414"/>
<rect x="653" y="273" width="3" height="7" fill="#dc4f37"/>
<rect x="660" y="276" width="1" height="17" fill="#111"/>
<rect x="658" y="280" width="5" height="6" fill="#141414"/>
<rect x="659" y="281" width="3" height="4" fill="#27a35c"/>
<rect x="665" y="260" width="1" height="32" fill="#111"/>
<rect x="663" y="280" width="5" height="11" fill="#141414"/>
<rect x="664" y="281" width="3" height="9" fill="#dc4f37"/>
<rect x="670" y="287" width="1" height="20" fill="#111"/>
<rect x="668" y="292" width="5" height="1" fill="#111"/>
<rect x="675" y="278" width="1" height="48" fill="#111"/>
<rect x="673" y="291" width="5" height="26" fill="#141414"/>
<rect x="674" y="292" width="3" height="24" fill="#dc4f37"/>
<rect x="681" y="314" width="1" height="22" fill="#111"/>
<rect x="679" y="315" width="5" height="15" fill="#141414"/>
<rect x="680" y="316" width="3" height="13" fill="#dc4f37"/>
<rect x="686" y="333" width="1" height="22" fill="#111"/>
<rect x="684" y="337" width="5" height="18" fill="#141414"/>
<rect x="685" y="338" width="3" height="16" fill="#dc4f37"/>
<rect x="691" y="352" width="1" height="21" fill="#111"/>
<rect x="689" y="355" width="5" height="15" fill="#141414"/>
<rect x="690" y="356" width="3" height="13" fill="#dc4f37"/>
<rect x="697" y="362" width="1" height="20" fill="#111"/>
<rect x="695" y="368" width="5" height="15" fill="#141414"/>
<rect x="696" y="369" width="3" height="13" fill="#dc4f37"/>
<rect x="702" y="347" width="1" height="46" fill="#111"/>
<rect x="700" y="354" width="5" height="26" fill="#141414"/>
<rect x="701" y="355" width="3" height="24" fill="#27a35c"/>
<rect x="707" y="331" width="1" height="44" fill="#111"/>
<rect x="705" y="346" width="5" height="7" fill="#141414"/>
<rect x="706" y="347" width="3" height="5" fill="#27a35c"/>
<rect x="712" y="350" width="1" height="18" fill="#111"/>
<rect x="710" y="352" width="5" height="12" fill="#141414"/>
<rect x="711" y="353" width="3" height="10" fill="#dc4f37"/>
<rect x="718" y="356" width="1" height="18" fill="#111"/>
<rect x="716" y="367" width="5" height="1" fill="#111"/>
<rect x="723" y="361" width="1" height="25" fill="#111"/>
<rect x="721" y="368" width="5" height="19" fill="#141414"/>
<rect x="722" y="369" width="3" height="17" fill="#dc4f37"/>
<rect x="728" y="372" width="1" height="23" fill="#111"/>
<rect x="726" y="383" width="5" height="8" fill="#141414"/>
<rect x="727" y="384" width="3" height="6" fill="#dc4f37"/>
<rect x="733" y="376" width="1" height="24" fill="#111"/>
<rect x="731" y="392" width="5" height="4" fill="#141414"/>
<rect x="732" y="393" width="3" height="2" fill="#27a35c"/>
<rect x="739" y="359" width="1" height="27" fill="#111"/>
<rect x="737" y="370" width="5" height="16" fill="#141414"/>
<rect x="738" y="371" width="3" height="14" fill="#27a35c"/>
<rect x="744" y="347" width="1" height="28" fill="#111"/>
<rect x="742" y="351" width="5" height="19" fill="#141414"/>
<rect x="743" y="352" width="3" height="17" fill="#27a35c"/>
<rect x="749" y="336" width="1" height="34" fill="#111"/>
<rect x="747" y="350" width="5" height="13" fill="#141414"/>
<rect x="748" y="351" width="3" height="11" fill="#dc4f37"/>
<rect x="755" y="342" width="1" height="27" fill="#111"/>
<rect x="753" y="357" width="5" height="11" fill="#141414"/>
<rect x="754" y="358" width="3" height="9" fill="#27a35c"/>
<rect x="760" y="281" width="1" height="20" fill="#111"/>
<rect x="758" y="292" width="5" height="1" fill="#111"/>
<rect x="765" y="290" width="1" height="35" fill="#111"/>
<rect x="763" y="291" width="5" height="28" fill="#141414"/>
<rect x="764" y="292" width="3" height="26" fill="#dc4f37"/>
<rect x="770" y="305" width="1" height="15" fill="#111"/>
<rect x="768" y="315" width="5" height="5" fill="#141414"/>
<rect x="769" y="316" width="3" height="3" fill="#27a35c"/>
<rect x="776" y="311" width="1" height="14" fill="#111"/>
<rect x="774" y="318" width="5" height="5" fill="#141414"/>
<rect x="775" y="319" width="3" height="3" fill="#dc4f37"/>
<rect x="781" y="306" width="1" height="19" fill="#111"/>
<rect x="779" y="310" width="5" height="15" fill="#141414"/>
<rect x="780" y="311" width="3" height="13" fill="#27a35c"/>
<rect x="786" y="305" width="1" height="15" fill="#111"/>
<rect x="784" y="306" width="5" height="6" fill="#141414"/>
<rect x="785" y="307" width="3" height="4" fill="#dc4f37"/>
<rect x="791" y="270" width="1" height="28" fill="#111"/>
<rect x="789" y="280" width="5" height="18" fill="#141414"/>
<rect x="790" y="281" width="3" height="16" fill="#27a35c"/>
<rect x="797" y="231" width="1" height="47" fill="#111"/>
<rect x="795" y="253" width="5" height="26" fill="#141414"/>
<rect x="796" y="254" width="3" height="24" fill="#27a35c"/>
<rect x="802" y="225" width="1" height="34" fill="#111"/>
<rect x="800" y="236" width="5" height="21" fill="#141414"/>
<rect x="801" y="237" width="3" height="19" fill="#27a35c"/>
<rect x="807" y="220" width="1" height="44" fill="#111"/>
<rect x="805" y="237" width="5" height="19" fill="#141414"/>
<rect x="806" y="238" width="3" height="17" fill="#dc4f37"/>
<rect x="812" y="228" width="1" height="45" fill="#111"/>
<rect x="810" y="228" width="5" height="26" fill="#141414"/>
<rect x="811" y="229" width="3" height="24" fill="#27a35c"/>
<rect x="818" y="186" width="1" height="20" fill="#111"/>
<rect x="816" y="193" width="5" height="9" fill="#141414"/>
<rect x="817" y="194" width="3" height="7" fill="#27a35c"/>
<rect x="823" y="165" width="1" height="28" fill="#111"/>
<rect x="821" y="180" width="5" height="13" fill="#141414"/>
<rect x="822" y="181" width="3" height="11" fill="#27a35c"/>
<rect x="828" y="170" width="1" height="21" fill="#111"/>
<rect x="826" y="176" width="5" height="16" fill="#141414"/>
<rect x="827" y="177" width="3" height="14" fill="#dc4f37"/>
<rect x="834" y="173" width="1" height="41" fill="#111"/>
<rect x="832" y="192" width="5" height="18" fill="#141414"/>
<rect x="833" y="193" width="3" height="16" fill="#dc4f37"/>
<rect x="839" y="192" width="1" height="22" fill="#111"/>
<rect x="837" y="202" width="5" height="1" fill="#111"/>
<rect x="844" y="227" width="1" height="31" fill="#111"/>
<rect x="842" y="228" width="5" height="25" fill="#141414"/>
<rect x="843" y="229" width="3" height="23" fill="#dc4f37"/>
<rect x="849" y="238" width="1" height="24" fill="#111"/>
<rect x="847" y="253" width="5" height="7" fill="#141414"/>
<rect x="848" y="254" width="3" height="5" fill="#dc4f37"/>
<rect x="855" y="239" width="1" height="35" fill="#111"/>
<rect x="853" y="258" width="5" height="9" fill="#141414"/>
<rect x="854" y="259" width="3" height="7" fill="#dc4f37"/>
<rect x="860" y="234" width="1" height="22" fill="#111"/>
<rect x="858" y="241" width="5" height="10" fill="#141414"/>
<rect x="859" y="242" width="3" height="8" fill="#dc4f37"/>
<rect x="865" y="205" width="1" height="33" fill="#111"/>
<rect x="863" y="216" width="5" height="14" fill="#141414"/>
<rect x="864" y="217" width="3" height="12" fill="#27a35c"/>
<rect x="870" y="228" width="1" height="36" fill="#111"/>
<rect x="868" y="228" width="5" height="29" fill="#141414"/>
<rect x="869" y="229" width="3" height="27" fill="#dc4f37"/>
<rect x="876" y="257" width="1" height="17" fill="#111"/>
<rect x="874" y="263" width="5" height="10" fill="#141414"/>
<rect x="875" y="264" width="3" height="8" fill="#dc4f37"/>
<rect x="881" y="255" width="1" height="20" fill="#111"/>
<rect x="879" y="262" width="5" height="11" fill="#141414"/>
<rect x="880" y="263" width="3" height="9" fill="#27a35c"/>
<rect x="886" y="252" width="1" height="21" fill="#111"/>
<rect x="884" y="258" width="5" height="4" fill="#141414"/>
<rect x="885" y="259" width="3" height="2" fill="#27a35c"/>
<rect x="892" y="225" width="1" height="39" fill="#111"/>
<rect x="890" y="229" width="5" height="26" fill="#141414"/>
<rect x="891" y="230" width="3" height="24" fill="#27a35c"/>
<rect x="897" y="218" width="1" height="58" fill="#111"/>
<rect x="895" y="220" width="5" height="52" fill="#141414"/>
<rect x="896" y="221" width="3" height="50" fill="#dc4f37"/>
<rect x="902" y="272" width="1" height="26" fill="#111"/>
<rect x="900" y="272" width="5" height="16" fill="#141414"/>
<rect x="901" y="273" width="3" height="14" fill="#dc4f37"/>
<rect x="907" y="279" width="1" height="22" fill="#111"/>
<rect x="905" y="289" width="5" height="10" fill="#141414"/>
<rect x="906" y="290" width="3" height="8" fill="#dc4f37"/>
<rect x="913" y="294" width="1" height="78" fill="#111"/>
<rect x="911" y="299" width="5" height="72" fill="#141414"/>
<rect x="912" y="300" width="3" height="70" fill="#dc4f37"/>
<rect x="918" y="341" width="1" height="25" fill="#111"/>
<rect x="916" y="355" width="5" height="4" fill="#141414"/>
<rect x="917" y="356" width="3" height="2" fill="#27a35c"/>
<rect x="923" y="294" width="1" height="56" fill="#111"/>
<rect x="921" y="317" width="5" height="34" fill="#141414"/>
<rect x="922" y="318" width="3" height="32" fill="#27a35c"/>
<rect x="928" y="310" width="1" height="30" fill="#111"/>
<rect x="926" y="319" width="5" height="13" fill="#141414"/>
<rect x="927" y="320" width="3" height="11" fill="#dc4f37"/>
<rect x="934" y="310" width="1" height="22" fill="#111"/>
<rect x="932" y="323" width="5" height="6" fill="#141414"/>
<rect x="933" y="324" width="3" height="4" fill="#27a35c"/>
<rect x="939" y="318" width="1" height="35" fill="#111"/>
<rect x="937" y="326" width="5" height="27" fill="#141414"/>
<rect x="938" y="327" width="3" height="25" fill="#dc4f37"/>
<rect x="944" y="377" width="1" height="32" fill="#111"/>
<rect x="942" y="386" width="5" height="9" fill="#141414"/>
<rect x="943" y="387" width="3" height="7" fill="#27a35c"/>
<rect x="949" y="367" width="1" height="23" fill="#111"/>
<rect x="947" y="375" width="5" height="5" fill="#141414"/>
<rect x="948" y="376" width="3" height="3" fill="#27a35c"/>
<rect x="955" y="362" width="1" height="20" fill="#111"/>
<rect x="953" y="376" width="5" height="7" fill="#141414"/>
<rect x="954" y="377" width="3" height="5" fill="#dc4f37"/>
<rect x="960" y="348" width="1" height="33" fill="#111"/>
<rect x="958" y="354" width="5" height="28" fill="#141414"/>
<rect x="959" y="355" width="3" height="26" fill="#27a35c"/>
<rect x="965" y="350" width="1" height="29" fill="#111"/>
<rect x="963" y="351" width="5" height="15" fill="#141414"/>
<rect x="964" y="352" width="3" height="13" fill="#dc4f37"/>
<rect x="971" y="338" width="1" height="30" fill="#111"/>
<rect x="969" y="351" width="5" height="15" fill="#141414"/>
<rect x="970" y="352" width="3" height="13" fill="#27a35c"/>
<rect x="976" y="349" width="1" height="24" fill="#111"/>
<rect x="974" y="354" width="5" height="10" fill="#141414"/>
<rect x="975" y="355" width="3" height="8" fill="#dc4f37"/>
<rect x="981" y="360" width="1" height="22" fill="#111"/>
<rect x="979" y="362" width="5" height="15" fill="#141414"/>
<rect x="980" y="363" width="3" height="13" fill="#dc4f37"/>
<rect x="986" y="369" width="1" height="19" fill="#111"/>
<rect x="984" y="376" width="5" height="1" fill="#111"/>
<rect x="992" y="355" width="1" height="17" fill="#111"/>
<rect x="990" y="360" width="5" height="12" fill="#141414"/>
<rect x="991" y="361" width="3" height="10" fill="#27a35c"/>
<rect x="997" y="378" width="1" height="16" fill="#111"/>
<rect x="995" y="381" width="5" height="11" fill="#141414"/>
<rect x="996" y="382" width="3" height="9" fill="#dc4f37"/>
<rect x="1002" y="385" width="1" height="17" fill="#111"/>
<rect x="1000" y="391" width="5" height="11" fill="#141414"/>
<rect x="1001" y="392" width="3" height="9" fill="#dc4f37"/>
<rect x="1007" y="368" width="1" height="26" fill="#111"/>
<rect x="1005" y="368" width="5" height="27" fill="#141414"/>
<rect x="1006" y="369" width="3" height="25" fill="#27a35c"/>
<rect x="1013" y="372" width="1" height="34" fill="#111"/>
<rect x="1011" y="373" width="5" height="14" fill="#141414"/>
<rect x="1012" y="374" width="3" height="12" fill="#dc4f37"/>
<rect x="1018" y="377" width="1" height="24" fill="#111"/>
<rect x="1016" y="381" width="5" height="21" fill="#141414"/>
<rect x="1017" y="382" width="3" height="19" fill="#dc4f37"/>
<rect x="1023" y="394" width="1" height="18" fill="#111"/>
<rect x="1021" y="399" width="5" height="1" fill="#111"/>
<rect x="1028" y="400" width="1" height="22" fill="#111"/>
<rect x="1026" y="402" width="5" height="21" fill="#141414"/>
<rect x="1027" y="403" width="3" height="19" fill="#dc4f37"/>
<rect x="58" y="625" width="3.6" height="20.3" fill="#1f9d52"/>
<rect x="58" y="625" width="3.6" height="1" fill="#136b35" opacity="0.7"/>
<rect x="63" y="622" width="3.6" height="23.3" fill="#de4a2a"/>
<rect x="63" y="622" width="3.6" height="1" fill="#9a2e1a" opacity="0.7"/>
<rect x="69" y="632" width="3.6" height="13.3" fill="#de4a2a"/>
<rect x="69" y="632" width="3.6" height="1" fill="#9a2e1a" opacity="0.7"/>
<rect x="74" y="625" width="3.6" height="20.3" fill="#de4a2a"/>
<rect x="74" y="625" width="3.6" height="1" fill="#9a2e1a" opacity="0.7"/>
<rect x="79" y="629" width="3.6" height="16.3" fill="#de4a2a"/>
<rect x="79" y="629" width="3.6" height="1" fill="#9a2e1a" opacity="0.7"/>
<rect x="84" y="620" width="3.6" height="25.3" fill="#de4a2a"/>
<rect x="84" y="620" width="3.6" height="1" fill="#9a2e1a" opacity="0.7"/>
<rect x="90" y="618" width="3.6" height="27.3" fill="#de4a2a"/>
<rect x="90" y="618" width="3.6" height="1" fill="#9a2e1a" opacity="0.7"/>
<rect x="95" y="628" width="3.6" height="17.3" fill="#1f9d52"/>
<rect x="95" y="628" width="3.6" height="1" fill="#136b35" opacity="0.7"/>
<rect x="100" y="620" width="3.6" height="25.3" fill="#de4a2a"/>
<rect x="100" y="620" width="3.6" height="1" fill="#9a2e1a" opacity="0.7"/>
<rect x="105" y="633" width="3.6" height="12.3" fill="#1f9d52"/>
<rect x="105" y="633" width="3.6" height="1" fill="#136b35" opacity="0.7"/>
<rect x="111" y="628" width="3.6" height="17.3" fill="#1f9d52"/>
<rect x="111" y="628" width="3.6" height="1" fill="#136b35" opacity="0.7"/>
<rect x="116" y="629" width="3.6" height="16.3" fill="#1f9d52"/>
<rect x="116" y="629" width="3.6" height="1" fill="#136b35" opacity="0.7"/>
<rect x="121" y="635" width="3.6" height="10.3" fill="#1f9d52"/>
<rect x="121" y="635" width="3.6" height="1" fill="#136b35" opacity="0.7"/>
<rect x="126" y="632" width="3.6" height="13.3" fill="#de4a2a"/>
<rect x="126" y="632" width="3.6" height="1" fill="#9a2e1a" opacity="0.7"/>
<rect x="132" y="631" width="3.6" height="14.3" fill="#1f9d52"/>
<rect x="132" y="631" width="3.6" height="1" fill="#136b35" opacity="0.7"/>
<rect x="137" y="629" width="3.6" height="16.3" fill="#de4a2a"/>
<rect x="137" y="629" width="3.6" height="1" fill="#9a2e1a" opacity="0.7"/>
<rect x="142" y="632" width="3.6" height="13.3" fill="#de4a2a"/>
<rect x="142" y="632" width="3.6" height="1" fill="#9a2e1a" opacity="0.7"/>
<rect x="148" y="632" width="3.6" height="13.3" fill="#de4a2a"/>
<rect x="148" y="632" width="3.6" height="1" fill="#9a2e1a" opacity="0.7"/>
<rect x="153" y="628" width="3.6" height="17.3" fill="#1f9d52"/>
<rect x="153" y="628" width="3.6" height="1" fill="#136b35" opacity="0.7"/>
<rect x="158" y="622" width="3.6" height="23.3" fill="#1f9d52"/>
<rect x="158" y="622" width="3.6" height="1" fill="#136b35" opacity="0.7"/>
<rect x="163" y="629" width="3.6" height="16.3" fill="#de4a2a"/>
<rect x="163" y="629" width="3.6" height="1" fill="#9a2e1a" opacity="0.7"/>
<rect x="169" y="625" width="3.6" height="20.3" fill="#1f9d52"/>
<rect x="169" y="625" width="3.6" height="1" fill="#136b35" opacity="0.7"/>
<rect x="174" y="629" width="3.6" height="16.3" fill="#1f9d52"/>
<rect x="174" y="629" width="3.6" height="1" fill="#136b35" opacity="0.7"/>
<rect x="179" y="630" width="3.6" height="15.3" fill="#1f9d52"/>
<rect x="179" y="630" width="3.6" height="1" fill="#136b35" opacity="0.7"/>
<rect x="184" y="628" width="3.6" height="17.3" fill="#de4a2a"/>
<rect x="184" y="628" width="3.6" height="1" fill="#9a2e1a" opacity="0.7"/>
<rect x="190" y="628" width="3.6" height="17.3" fill="#1f9d52"/>
<rect x="190" y="628" width="3.6" height="1" fill="#136b35" opacity="0.7"/>
<rect x="195" y="633" width="3.6" height="12.3" fill="#de4a2a"/>
<rect x="195" y="633" width="3.6" height="1" fill="#9a2e1a" opacity="0.7"/>
<rect x="200" y="628" width="3.6" height="17.3" fill="#1f9d52"/>
<rect x="200" y="628" width="3.6" height="1" fill="#136b35" opacity="0.7"/>
<rect x="206" y="625" width="3.6" height="20.3" fill="#de4a2a"/>
<rect x="206" y="625" width="3.6" height="1" fill="#9a2e1a" opacity="0.7"/>
<rect x="211" y="619" width="3.6" height="26.3" fill="#de4a2a"/>
<rect x="211" y="619" width="3.6" height="1" fill="#9a2e1a" opacity="0.7"/>
<rect x="216" y="624" width="3.6" height="21.3" fill="#1f9d52"/>
<rect x="216" y="624" width="3.6" height="1" fill="#136b35" opacity="0.7"/>
<rect x="221" y="631" width="3.6" height="14.3" fill="#1f9d52"/>
<rect x="221" y="631" width="3.6" height="1" fill="#136b35" opacity="0.7"/>
<rect x="227" y="628" width="3.6" height="17.3" fill="#de4a2a"/>
<rect x="227" y="628" width="3.6" height="1" fill="#9a2e1a" opacity="0.7"/>
<rect x="232" y="628" width="3.6" height="17.3" fill="#1f9d52"/>
<rect x="232" y="628" width="3.6" height="1" fill="#136b35" opacity="0.7"/>
<rect x="237" y="625" width="3.6" height="20.3" fill="#de4a2a"/>
<rect x="237" y="625" width="3.6" height="1" fill="#9a2e1a" opacity="0.7"/>
<rect x="242" y="617" width="3.6" height="28.3" fill="#de4a2a"/>
<rect x="242" y="617" width="3.6" height="1" fill="#9a2e1a" opacity="0.7"/>
<rect x="248" y="616" width="3.6" height="29.3" fill="#de4a2a"/>
<rect x="248" y="616" width="3.6" height="1" fill="#9a2e1a" opacity="0.7"/>
<rect x="253" y="627" width="3.6" height="18.3" fill="#1f9d52"/>
<rect x="253" y="627" width="3.6" height="1" fill="#136b35" opacity="0.7"/>
<rect x="258" y="628" width="3.6" height="17.3" fill="#de4a2a"/>
<rect x="258" y="628" width="3.6" height="1" fill="#9a2e1a" opacity="0.7"/>
<rect x="263" y="620" width="3.6" height="25.3" fill="#de4a2a"/>
<rect x="263" y="620" width="3.6" height="1" fill="#9a2e1a" opacity="0.7"/>
<rect x="269" y="619" width="3.6" height="26.3" fill="#1f9d52"/>
<rect x="269" y="619" width="3.6" height="1" fill="#136b35" opacity="0.7"/>
<rect x="274" y="618" width="3.6" height="27.3" fill="#1f9d52"/>
<rect x="274" y="618" width="3.6" height="1" fill="#136b35" opacity="0.7"/>
<rect x="279" y="618" width="3.6" height="27.3" fill="#1f9d52"/>
<rect x="279" y="618" width="3.6" height="1" fill="#136b35" opacity="0.7"/>
<rect x="285" y="621" width="3.6" height="24.3" fill="#de4a2a"/>
<rect x="285" y="621" width="3.6" height="1" fill="#9a2e1a" opacity="0.7"/>
<rect x="290" y="617" width="3.6" height="28.3" fill="#de4a2a"/>
<rect x="290" y="617" width="3.6" height="1" fill="#9a2e1a" opacity="0.7"/>
<rect x="295" y="625" width="3.6" height="20.3" fill="#1f9d52"/>
<rect x="295" y="625" width="3.6" height="1" fill="#136b35" opacity="0.7"/>
<rect x="300" y="625" width="3.6" height="20.3" fill="#de4a2a"/>
<rect x="300" y="625" width="3.6" height="1" fill="#9a2e1a" opacity="0.7"/>
<rect x="306" y="623" width="3.6" height="22.3" fill="#de4a2a"/>
<rect x="306" y="623" width="3.6" height="1" fill="#9a2e1a" opacity="0.7"/>
<rect x="311" y="617" width="3.6" height="28.3" fill="#de4a2a"/>
<rect x="311" y="617" width="3.6" height="1" fill="#9a2e1a" opacity="0.7"/>
<rect x="316" y="604" width="3.6" height="41.3" fill="#de4a2a"/>
<rect x="316" y="604" width="3.6" height="1" fill="#9a2e1a" opacity="0.7"/>
<rect x="321" y="622" width="3.6" height="23.3" fill="#1f9d52"/>
<rect x="321" y="622" width="3.6" height="1" fill="#136b35" opacity="0.7"/>
<rect x="327" y="623" width="3.6" height="22.3" fill="#1f9d52"/>
<rect x="327" y="623" width="3.6" height="1" fill="#136b35" opacity="0.7"/>
<rect x="332" y="628" width="3.6" height="17.3" fill="#1f9d52"/>
<rect x="332" y="628" width="3.6" height="1" fill="#136b35" opacity="0.7"/>
<rect x="337" y="629" width="3.6" height="16.3" fill="#de4a2a"/>
<rect x="337" y="629" width="3.6" height="1" fill="#9a2e1a" opacity="0.7"/>
<rect x="343" y="630" width="3.6" height="15.3" fill="#1f9d52"/>
<rect x="343" y="630" width="3.6" height="1" fill="#136b35" opacity="0.7"/>
<rect x="348" y="628" width="3.6" height="17.3" fill="#de4a2a"/>
<rect x="348" y="628" width="3.6" height="1" fill="#9a2e1a" opacity="0.7"/>
<rect x="353" y="625" width="3.6" height="20.3" fill="#de4a2a"/>
<rect x="353" y="625" width="3.6" height="1" fill="#9a2e1a" opacity="0.7"/>
<rect x="358" y="631" width="3.6" height="14.3" fill="#de4a2a"/>
<rect x="358" y="631" width="3.6" height="1" fill="#9a2e1a" opacity="0.7"/>
<rect x="364" y="629" width="3.6" height="16.3" fill="#1f9d52"/>
<rect x="364" y="629" width="3.6" height="1" fill="#136b35" opacity="0.7"/>
<rect x="369" y="617" width="3.6" height="28.3" fill="#1f9d52"/>
<rect x="369" y="617" width="3.6" height="1" fill="#136b35" opacity="0.7"/>
<rect x="374" y="616" width="3.6" height="29.3" fill="#de4a2a"/>
<rect x="374" y="616" width="3.6" height="1" fill="#9a2e1a" opacity="0.7"/>
<rect x="379" y="616" width="3.6" height="29.3" fill="#1f9d52"/>
<rect x="379" y="616" width="3.6" height="1" fill="#136b35" opacity="0.7"/>
<rect x="385" y="615" width="3.6" height="30.3" fill="#1f9d52"/>
<rect x="385" y="615" width="3.6" height="1" fill="#136b35" opacity="0.7"/>
<rect x="390" y="613" width="3.6" height="32.3" fill="#de4a2a"/>
<rect x="390" y="613" width="3.6" height="1" fill="#9a2e1a" opacity="0.7"/>
<rect x="395" y="618" width="3.6" height="27.3" fill="#1f9d52"/>
<rect x="395" y="618" width="3.6" height="1" fill="#136b35" opacity="0.7"/>
<rect x="400" y="624" width="3.6" height="21.3" fill="#de4a2a"/>
<rect x="400" y="624" width="3.6" height="1" fill="#9a2e1a" opacity="0.7"/>
<rect x="406" y="621" width="3.6" height="24.3" fill="#de4a2a"/>
<rect x="406" y="621" width="3.6" height="1" fill="#9a2e1a" opacity="0.7"/>
<rect x="411" y="627" width="3.6" height="18.3" fill="#de4a2a"/>
<rect x="411" y="627" width="3.6" height="1" fill="#9a2e1a" opacity="0.7"/>
<rect x="416" y="621" width="3.6" height="24.3" fill="#de4a2a"/>
<rect x="416" y="621" width="3.6" height="1" fill="#9a2e1a" opacity="0.7"/>
<rect x="422" y="627" width="3.6" height="18.3" fill="#de4a2a"/>
<rect x="422" y="627" width="3.6" height="1" fill="#9a2e1a" opacity="0.7"/>
<rect x="427" y="620" width="3.6" height="25.3" fill="#1f9d52"/>
<rect x="427" y="620" width="3.6" height="1" fill="#136b35" opacity="0.7"/>
<rect x="432" y="627" width="3.6" height="18.3" fill="#de4a2a"/>
<rect x="432" y="627" width="3.6" height="1" fill="#9a2e1a" opacity="0.7"/>
<rect x="437" y="620" width="3.6" height="25.3" fill="#de4a2a"/>
<rect x="437" y="620" width="3.6" height="1" fill="#9a2e1a" opacity="0.7"/>
<rect x="443" y="629" width="3.6" height="16.3" fill="#1f9d52"/>
<rect x="443" y="629" width="3.6" height="1" fill="#136b35" opacity="0.7"/>
<rect x="448" y="622" width="3.6" height="23.3" fill="#de4a2a"/>
<rect x="448" y="622" width="3.6" height="1" fill="#9a2e1a" opacity="0.7"/>
<rect x="453" y="625" width="3.6" height="20.3" fill="#de4a2a"/>
<rect x="453" y="625" width="3.6" height="1" fill="#9a2e1a" opacity="0.7"/>
<rect x="458" y="633" width="3.6" height="12.3" fill="#1f9d52"/>
<rect x="458" y="633" width="3.6" height="1" fill="#136b35" opacity="0.7"/>
<rect x="464" y="616" width="3.6" height="29.3" fill="#1f9d52"/>
<rect x="464" y="616" width="3.6" height="1" fill="#136b35" opacity="0.7"/>
<rect x="469" y="609" width="3.6" height="36.3" fill="#de4a2a"/>
<rect x="469" y="609" width="3.6" height="1" fill="#9a2e1a" opacity="0.7"/>
<rect x="474" y="617" width="3.6" height="28.3" fill="#de4a2a"/>
<rect x="474" y="617" width="3.6" height="1" fill="#9a2e1a" opacity="0.7"/>
<rect x="480" y="621" width="3.6" height="24.3" fill="#de4a2a"/>
<rect x="480" y="621" width="3.6" height="1" fill="#9a2e1a" opacity="0.7"/>
<rect x="485" y="624" width="3.6" height="21.3" fill="#1f9d52"/>
<rect x="485" y="624" width="3.6" height="1" fill="#136b35" opacity="0.7"/>
<rect x="490" y="616" width="3.6" height="29.3" fill="#de4a2a"/>
<rect x="490" y="616" width="3.6" height="1" fill="#9a2e1a" opacity="0.7"/>
<rect x="495" y="616" width="3.6" height="29.3" fill="#1f9d52"/>
<rect x="495" y="616" width="3.6" height="1" fill="#136b35" opacity="0.7"/>
<rect x="501" y="619" width="3.6" height="26.3" fill="#de4a2a"/>
<rect x="501" y="619" width="3.6" height="1" fill="#9a2e1a" opacity="0.7"/>
<rect x="506" y="622" width="3.6" height="23.3" fill="#de4a2a"/>
<rect x="506" y="622" width="3.6" height="1" fill="#9a2e1a" opacity="0.7"/>
<rect x="511" y="614" width="3.6" height="31.3" fill="#1f9d52"/>
<rect x="511" y="614" width="3.6" height="1" fill="#136b35" opacity="0.7"/>
<rect x="516" y="625" width="3.6" height="20.3" fill="#1f9d52"/>
<rect x="516" y="625" width="3.6" height="1" fill="#136b35" opacity="0.7"/>
<rect x="522" y="615" width="3.6" height="30.3" fill="#1f9d52"/>
<rect x="522" y="615" width="3.6" height="1" fill="#136b35" opacity="0.7"/>
<rect x="527" y="627" width="3.6" height="18.3" fill="#de4a2a"/>
<rect x="527" y="627" width="3.6" height="1" fill="#9a2e1a" opacity="0.7"/>
<rect x="532" y="622" width="3.6" height="23.3" fill="#1f9d52"/>
<rect x="532" y="622" width="3.6" height="1" fill="#136b35" opacity="0.7"/>
<rect x="537" y="628" width="3.6" height="17.3" fill="#1f9d52"/>
<rect x="537" y="628" width="3.6" height="1" fill="#136b35" opacity="0.7"/>
<rect x="543" y="618" width="3.6" height="27.3" fill="#de4a2a"/>
<rect x="543" y="618" width="3.6" height="1" fill="#9a2e1a" opacity="0.7"/>
<rect x="548" y="625" width="3.6" height="20.3" fill="#de4a2a"/>
<rect x="548" y="625" width="3.6" height="1" fill="#9a2e1a" opacity="0.7"/>
<rect x="553" y="629" width="3.6" height="16.3" fill="#de4a2a"/>
<rect x="553" y="629" width="3.6" height="1" fill="#9a2e1a" opacity="0.7"/>
<rect x="559" y="628" width="3.6" height="17.3" fill="#1f9d52"/>
<rect x="559" y="628" width="3.6" height="1" fill="#136b35" opacity="0.7"/>
<rect x="564" y="627" width="3.6" height="18.3" fill="#de4a2a"/>
<rect x="564" y="627" width="3.6" height="1" fill="#9a2e1a" opacity="0.7"/>
<rect x="569" y="625" width="3.6" height="20.3" fill="#1f9d52"/>
<rect x="569" y="625" width="3.6" height="1" fill="#136b35" opacity="0.7"/>
<rect x="574" y="622" width="3.6" height="23.3" fill="#1f9d52"/>
<rect x="574" y="622" width="3.6" height="1" fill="#136b35" opacity="0.7"/>
<rect x="580" y="627" width="3.6" height="18.3" fill="#de4a2a"/>
<rect x="580" y="627" width="3.6" height="1" fill="#9a2e1a" opacity="0.7"/>
<rect x="585" y="619" width="3.6" height="26.3" fill="#1f9d52"/>
<rect x="585" y="619" width="3.6" height="1" fill="#136b35" opacity="0.7"/>
<rect x="590" y="615" width="3.6" height="30.3" fill="#1f9d52"/>
<rect x="590" y="615" width="3.6" height="1" fill="#136b35" opacity="0.7"/>
<rect x="595" y="615" width="3.6" height="30.3" fill="#de4a2a"/>
<rect x="595" y="615" width="3.6" height="1" fill="#9a2e1a" opacity="0.7"/>
<rect x="601" y="617" width="3.6" height="28.3" fill="#1f9d52"/>
<rect x="601" y="617" width="3.6" height="1" fill="#136b35" opacity="0.7"/>
<rect x="606" y="606" width="3.6" height="39.3" fill="#1f9d52"/>
<rect x="606" y="606" width="3.6" height="1" fill="#136b35" opacity="0.7"/>
<rect x="611" y="605" width="3.6" height="40.3" fill="#de4a2a"/>
<rect x="611" y="605" width="3.6" height="1" fill="#9a2e1a" opacity="0.7"/>
<rect x="617" y="612" width="3.6" height="33.3" fill="#de4a2a"/>
<rect x="617" y="612" width="3.6" height="1" fill="#9a2e1a" opacity="0.7"/>
<rect x="622" y="614" width="3.6" height="31.3" fill="#1f9d52"/>
<rect x="622" y="614" width="3.6" height="1" fill="#136b35" opacity="0.7"/>
<rect x="627" y="618" width="3.6" height="27.3" fill="#1f9d52"/>
<rect x="627" y="618" width="3.6" height="1" fill="#136b35" opacity="0.7"/>
<rect x="632" y="614" width="3.6" height="31.3" fill="#1f9d52"/>
<rect x="632" y="614" width="3.6" height="1" fill="#136b35" opacity="0.7"/>
<rect x="638" y="620" width="3.6" height="25.3" fill="#de4a2a"/>
<rect x="638" y="620" width="3.6" height="1" fill="#9a2e1a" opacity="0.7"/>
<rect x="643" y="622" width="3.6" height="23.3" fill="#de4a2a"/>
<rect x="643" y="622" width="3.6" height="1" fill="#9a2e1a" opacity="0.7"/>
<rect x="648" y="612" width="3.6" height="33.3" fill="#de4a2a"/>
<rect x="648" y="612" width="3.6" height="1" fill="#9a2e1a" opacity="0.7"/>
<rect x="653" y="624" width="3.6" height="21.3" fill="#de4a2a"/>
<rect x="653" y="624" width="3.6" height="1" fill="#9a2e1a" opacity="0.7"/>
<rect x="659" y="622" width="3.6" height="23.3" fill="#1a46c6"/>
<rect x="659" y="622" width="3.6" height="1" fill="#0c2a80" opacity="0.7"/>
<rect x="664" y="627" width="3.6" height="18.3" fill="#de4a2a"/>
<rect x="664" y="627" width="3.6" height="1" fill="#9a2e1a" opacity="0.7"/>
<rect x="669" y="622" width="3.6" height="23.3" fill="#de4a2a"/>
<rect x="669" y="622" width="3.6" height="1" fill="#9a2e1a" opacity="0.7"/>
<rect x="674" y="617" width="3.6" height="28.3" fill="#de4a2a"/>
<rect x="674" y="617" width="3.6" height="1" fill="#9a2e1a" opacity="0.7"/>
<rect x="680" y="629" width="3.6" height="16.3" fill="#de4a2a"/>
<rect x="680" y="629" width="3.6" height="1" fill="#9a2e1a" opacity="0.7"/>
<rect x="685" y="623" width="3.6" height="22.3" fill="#de4a2a"/>
<rect x="685" y="623" width="3.6" height="1" fill="#9a2e1a" opacity="0.7"/>
<rect x="690" y="613" width="3.6" height="32.3" fill="#de4a2a"/>
<rect x="690" y="613" width="3.6" height="1" fill="#9a2e1a" opacity="0.7"/>
<rect x="696" y="624" width="3.6" height="21.3" fill="#de4a2a"/>
<rect x="696" y="624" width="3.6" height="1" fill="#9a2e1a" opacity="0.7"/>
<rect x="701" y="611" width="3.6" height="34.3" fill="#1f9d52"/>
<rect x="701" y="611" width="3.6" height="1" fill="#136b35" opacity="0.7"/>
<rect x="706" y="618" width="3.6" height="27.3" fill="#1f9d52"/>
<rect x="706" y="618" width="3.6" height="1" fill="#136b35" opacity="0.7"/>
<rect x="711" y="618" width="3.6" height="27.3" fill="#de4a2a"/>
<rect x="711" y="618" width="3.6" height="1" fill="#9a2e1a" opacity="0.7"/>
<rect x="717" y="621" width="3.6" height="24.3" fill="#de4a2a"/>
<rect x="717" y="621" width="3.6" height="1" fill="#9a2e1a" opacity="0.7"/>
<rect x="722" y="618" width="3.6" height="27.3" fill="#de4a2a"/>
<rect x="722" y="618" width="3.6" height="1" fill="#9a2e1a" opacity="0.7"/>
<rect x="727" y="615" width="3.6" height="30.3" fill="#de4a2a"/>
<rect x="727" y="615" width="3.6" height="1" fill="#9a2e1a" opacity="0.7"/>
<rect x="732" y="607" width="3.6" height="38.3" fill="#de4a2a"/>
<rect x="732" y="607" width="3.6" height="1" fill="#9a2e1a" opacity="0.7"/>
<rect x="738" y="624" width="3.6" height="21.3" fill="#1f9d52"/>
<rect x="738" y="624" width="3.6" height="1" fill="#136b35" opacity="0.7"/>
<rect x="743" y="622" width="3.6" height="23.3" fill="#1f9d52"/>
<rect x="743" y="622" width="3.6" height="1" fill="#136b35" opacity="0.7"/>
<rect x="748" y="620" width="3.6" height="25.3" fill="#de4a2a"/>
<rect x="748" y="620" width="3.6" height="1" fill="#9a2e1a" opacity="0.7"/>
<rect x="754" y="622" width="3.6" height="23.3" fill="#1f9d52"/>
<rect x="754" y="622" width="3.6" height="1" fill="#136b35" opacity="0.7"/>
<rect x="759" y="624" width="3.6" height="21.3" fill="#1f9d52"/>
<rect x="759" y="624" width="3.6" height="1" fill="#136b35" opacity="0.7"/>
<rect x="764" y="616" width="3.6" height="29.3" fill="#de4a2a"/>
<rect x="764" y="616" width="3.6" height="1" fill="#9a2e1a" opacity="0.7"/>
<rect x="769" y="614" width="3.6" height="31.3" fill="#1f9d52"/>
<rect x="769" y="614" width="3.6" height="1" fill="#136b35" opacity="0.7"/>
<rect x="775" y="622" width="3.6" height="23.3" fill="#de4a2a"/>
<rect x="775" y="622" width="3.6" height="1" fill="#9a2e1a" opacity="0.7"/>
<rect x="780" y="624" width="3.6" height="21.3" fill="#1f9d52"/>
<rect x="780" y="624" width="3.6" height="1" fill="#136b35" opacity="0.7"/>
<rect x="785" y="631" width="3.6" height="14.3" fill="#de4a2a"/>
<rect x="785" y="631" width="3.6" height="1" fill="#9a2e1a" opacity="0.7"/>
<rect x="790" y="616" width="3.6" height="29.3" fill="#1f9d52"/>
<rect x="790" y="616" width="3.6" height="1" fill="#136b35" opacity="0.7"/>
<rect x="796" y="613" width="3.6" height="32.3" fill="#1f9d52"/>
<rect x="796" y="613" width="3.6" height="1" fill="#136b35" opacity="0.7"/>
<rect x="801" y="619" width="3.6" height="26.3" fill="#1f9d52"/>
<rect x="801" y="619" width="3.6" height="1" fill="#136b35" opacity="0.7"/>
<rect x="806" y="617" width="3.6" height="28.3" fill="#de4a2a"/>
<rect x="806" y="617" width="3.6" height="1" fill="#9a2e1a" opacity="0.7"/>
<rect x="811" y="614" width="3.6" height="31.3" fill="#1f9d52"/>
<rect x="811" y="614" width="3.6" height="1" fill="#136b35" opacity="0.7"/>
<rect x="817" y="615" width="3.6" height="30.3" fill="#1f9d52"/>
<rect x="817" y="615" width="3.6" height="1" fill="#136b35" opacity="0.7"/>
<rect x="822" y="615" width="3.6" height="30.3" fill="#1f9d52"/>
<rect x="822" y="615" width="3.6" height="1" fill="#136b35" opacity="0.7"/>
<rect x="827" y="620" width="3.6" height="25.3" fill="#de4a2a"/>
<rect x="827" y="620" width="3.6" height="1" fill="#9a2e1a" opacity="0.7"/>
<rect x="833" y="605" width="3.6" height="40.3" fill="#de4a2a"/>
<rect x="833" y="605" width="3.6" height="1" fill="#9a2e1a" opacity="0.7"/>
<rect x="838" y="621" width="3.6" height="24.3" fill="#1f9d52"/>
<rect x="838" y="621" width="3.6" height="1" fill="#136b35" opacity="0.7"/>
<rect x="843" y="614" width="3.6" height="31.3" fill="#de4a2a"/>
<rect x="843" y="614" width="3.6" height="1" fill="#9a2e1a" opacity="0.7"/>
<rect x="848" y="620" width="3.6" height="25.3" fill="#de4a2a"/>
<rect x="848" y="620" width="3.6" height="1" fill="#9a2e1a" opacity="0.7"/>
<rect x="854" y="616" width="3.6" height="29.3" fill="#de4a2a"/>
<rect x="854" y="616" width="3.6" height="1" fill="#9a2e1a" opacity="0.7"/>
<rect x="859" y="615" width="3.6" height="30.3" fill="#1f9d52"/>
<rect x="859" y="615" width="3.6" height="1" fill="#136b35" opacity="0.7"/>
<rect x="864" y="620" width="3.6" height="25.3" fill="#1f9d52"/>
<rect x="864" y="620" width="3.6" height="1" fill="#136b35" opacity="0.7"/>
<rect x="869" y="618" width="3.6" height="27.3" fill="#de4a2a"/>
<rect x="869" y="618" width="3.6" height="1" fill="#9a2e1a" opacity="0.7"/>
<rect x="875" y="615" width="3.6" height="30.3" fill="#de4a2a"/>
<rect x="875" y="615" width="3.6" height="1" fill="#9a2e1a" opacity="0.7"/>
<rect x="880" y="619" width="3.6" height="26.3" fill="#1f9d52"/>
<rect x="880" y="619" width="3.6" height="1" fill="#136b35" opacity="0.7"/>
<rect x="885" y="620" width="3.6" height="25.3" fill="#1f9d52"/>
<rect x="885" y="620" width="3.6" height="1" fill="#136b35" opacity="0.7"/>
<rect x="891" y="620" width="3.6" height="25.3" fill="#1f9d52"/>
<rect x="891" y="620" width="3.6" height="1" fill="#136b35" opacity="0.7"/>
<rect x="896" y="613" width="3.6" height="32.3" fill="#de4a2a"/>
<rect x="896" y="613" width="3.6" height="1" fill="#9a2e1a" opacity="0.7"/>
<rect x="901" y="620" width="3.6" height="25.3" fill="#de4a2a"/>
<rect x="901" y="620" width="3.6" height="1" fill="#9a2e1a" opacity="0.7"/>
<rect x="906" y="628" width="3.6" height="17.3" fill="#de4a2a"/>
<rect x="906" y="628" width="3.6" height="1" fill="#9a2e1a" opacity="0.7"/>
<rect x="912" y="619" width="3.6" height="26.3" fill="#de4a2a"/>
<rect x="912" y="619" width="3.6" height="1" fill="#9a2e1a" opacity="0.7"/>
<rect x="917" y="621" width="3.6" height="24.3" fill="#1f9d52"/>
<rect x="917" y="621" width="3.6" height="1" fill="#136b35" opacity="0.7"/>
<rect x="922" y="610" width="3.6" height="35.3" fill="#1f9d52"/>
<rect x="922" y="610" width="3.6" height="1" fill="#136b35" opacity="0.7"/>
<rect x="927" y="623" width="3.6" height="22.3" fill="#de4a2a"/>
<rect x="927" y="623" width="3.6" height="1" fill="#9a2e1a" opacity="0.7"/>
<rect x="933" y="625" width="3.6" height="20.3" fill="#1f9d52"/>
<rect x="933" y="625" width="3.6" height="1" fill="#136b35" opacity="0.7"/>
<rect x="938" y="614" width="3.6" height="31.3" fill="#de4a2a"/>
<rect x="938" y="614" width="3.6" height="1" fill="#9a2e1a" opacity="0.7"/>
<rect x="943" y="603" width="3.6" height="42.3" fill="#de4a2a"/>
<rect x="943" y="603" width="3.6" height="1" fill="#9a2e1a" opacity="0.7"/>
<rect x="948" y="611" width="3.6" height="34.3" fill="#1f9d52"/>
<rect x="948" y="611" width="3.6" height="1" fill="#136b35" opacity="0.7"/>
<rect x="954" y="616" width="3.6" height="29.3" fill="#de4a2a"/>
<rect x="954" y="616" width="3.6" height="1" fill="#9a2e1a" opacity="0.7"/>
<rect x="959" y="611" width="3.6" height="34.3" fill="#1f9d52"/>
<rect x="959" y="611" width="3.6" height="1" fill="#136b35" opacity="0.7"/>
<rect x="964" y="622" width="3.6" height="23.3" fill="#de4a2a"/>
<rect x="964" y="622" width="3.6" height="1" fill="#9a2e1a" opacity="0.7"/>
<rect x="970" y="622" width="3.6" height="23.3" fill="#1f9d52"/>
<rect x="970" y="622" width="3.6" height="1" fill="#136b35" opacity="0.7"/>
<rect x="975" y="623" width="3.6" height="22.3" fill="#de4a2a"/>
<rect x="975" y="623" width="3.6" height="1" fill="#9a2e1a" opacity="0.7"/>
<rect x="980" y="620" width="3.6" height="25.3" fill="#de4a2a"/>
<rect x="980" y="620" width="3.6" height="1" fill="#9a2e1a" opacity="0.7"/>
<rect x="985" y="612" width="3.6" height="33.3" fill="#1f9d52"/>
<rect x="985" y="612" width="3.6" height="1" fill="#136b35" opacity="0.7"/>
<rect x="991" y="623" width="3.6" height="22.3" fill="#1f9d52"/>
<rect x="991" y="623" width="3.6" height="1" fill="#136b35" opacity="0.7"/>
<rect x="996" y="622" width="3.6" height="23.3" fill="#de4a2a"/>
<rect x="996" y="622" width="3.6" height="1" fill="#9a2e1a" opacity="0.7"/>
<rect x="1001" y="633" width="3.6" height="12.3" fill="#de4a2a"/>
<rect x="1001" y="633" width="3.6" height="1" fill="#9a2e1a" opacity="0.7"/>
<rect x="1006" y="630" width="3.6" height="15.3" fill="#1f9d52"/>
<rect x="1006" y="630" width="3.6" height="1" fill="#136b35" opacity="0.7"/>
<rect x="1012" y="624" width="3.6" height="21.3" fill="#de4a2a"/>
<rect x="1012" y="624" width="3.6" height="1" fill="#9a2e1a" opacity="0.7"/>
<rect x="1017" y="632" width="3.6" height="13.3" fill="#de4a2a"/>
<rect x="1017" y="632" width="3.6" height="1" fill="#9a2e1a" opacity="0.7"/>
<rect x="1022" y="631" width="3.6" height="14.3" fill="#1f9d52"/>
<rect x="1022" y="631" width="3.6" height="1" fill="#136b35" opacity="0.7"/>
<path d="M54.2,576.5 C57.72,575.87 69.67,573.48 75.3,572.7 C80.93,571.92 83.78,571.67 88,571.8 C92.22,571.93 96.38,572.93 100.6,573.5 C104.82,574.07 107.67,575.2 113.3,575.2 C118.93,575.2 128.07,574.13 134.4,573.5 C140.73,572.87 144.97,572.03 151.3,571.4 C157.63,570.77 162.57,570.05 172.4,569.7 C182.23,569.35 201.17,568.8 210.3,569.3 C219.43,569.8 221.57,572.57 227.2,572.7 C232.83,572.83 237.07,570.73 244.1,570.1 C251.13,569.47 258.85,569.1 269.4,568.9 C279.95,568.7 296.15,568.48 307.4,568.9 C318.65,569.32 329.17,571.12 336.9,571.4 C344.63,571.68 348.17,570.95 353.8,570.6 C359.43,570.25 365.07,569.17 370.7,569.3 C376.33,569.43 382.68,571.27 387.6,571.4 C392.52,571.53 394.58,570.45 400.2,570.1 C405.82,569.75 412.17,569.57 421.3,569.3 C430.43,569.03 447.27,568.5 455,568.5 C462.73,568.5 462.77,569.58 467.7,569.3 C472.63,569.02 476.87,567.15 484.6,566.8 C492.33,566.45 507.07,566.92 514.1,567.2 C521.13,567.48 522.57,568.37 526.8,568.5 C531.03,568.63 534.58,567.52 539.5,568 C544.42,568.48 549.55,571.03 556.3,571.4 C563.05,571.77 572.45,570.28 580,570.2 C587.55,570.12 596.82,570.43 601.6,570.9 C606.38,571.37 605.12,572.4 608.7,573 C612.28,573.6 618.9,574.43 623.1,574.5 C627.3,574.57 629.1,572.75 633.9,573.4 C638.7,574.05 645.92,577.2 651.9,578.4 C657.88,579.6 663.82,580.48 669.8,580.6 C675.78,580.72 681.2,580.07 687.8,579.1 C694.4,578.13 704.02,575.63 709.4,574.8 C714.78,573.97 716.52,574.7 720.1,574.1 C723.68,573.5 726.7,571.38 730.9,571.2 C735.1,571.02 741.1,572.82 745.3,573 C749.5,573.18 752.8,572.6 756.1,572.3 C759.4,572 762.12,570.78 765.1,571.2 C768.08,571.62 768.92,573.95 774,574.8 C779.08,575.65 789,575.82 795.6,576.3 C802.2,576.78 805.22,577.23 813.6,577.7 C821.98,578.17 837.52,579.03 845.9,579.1 C854.28,579.17 856.72,578.33 863.9,578.1 C871.08,577.87 882.42,578.25 889,577.7 C895.58,577.15 898,575.93 903.4,574.8 C908.8,573.67 915.42,571.55 921.4,570.9 C927.38,570.25 933.32,571.08 939.3,570.9 C945.28,570.72 951.3,569.92 957.3,569.8 C963.3,569.68 971.12,570.13 975.3,570.2 C979.48,570.27 978.82,569.9 982.4,570.2 C985.98,570.5 990.8,571.7 996.8,572 C1002.8,572.3 1014.8,572 1018.4,572" fill="none" stroke="#b04ccc" stroke-width="1.7"/>
<line x1="51.1" y1="396" x2="1138.4" y2="396" stroke="#111" stroke-width="2.3"/>
<line x1="51.1" y1="461.5" x2="1138.4" y2="461.5" stroke="#111" stroke-width="2.6"/>
<path d="M295.6,401.25 C292.48,403.18 282.62,408.79 276.9,412.8 C271.17,416.81 265.32,421.39 261.25,425.3 C257.18,429.21 253.54,433.38 252.5,436.25 C251.46,439.12 251.98,439.89 255,442.5 C258.02,445.11 263.57,448.88 270.6,451.9 C277.63,454.92 292.77,459.15 297.2,460.6" fill="none" stroke="#111" stroke-width="2.0" stroke-linecap="round" stroke-linejoin="round"/>
<path d="M545.4,419.6 C546.03,419.6 548.02,419.4 549.2,419.6 C550.38,419.8 551.12,420.18 552.5,420.8 C553.88,421.42 555.42,422.12 557.5,423.3 C559.58,424.48 562.37,426.57 565,427.9 C567.63,429.22 570.8,429.93 573.3,431.25 C575.8,432.57 577.77,434.41 580,435.8 C582.23,437.19 584.48,438.48 586.7,439.6 C588.92,440.72 591.37,441.53 593.3,442.5 C595.23,443.47 597.47,444.92 598.3,445.4" fill="none" stroke="#111" stroke-width="2.0" stroke-linecap="round" stroke-linejoin="round"/>
<path d="M568.75,413.3 C568.79,414 569.21,415.97 569,417.5 C568.79,419.03 568.17,420.92 567.5,422.5 C566.83,424.08 566.12,425.47 565,427 C563.88,428.53 562.18,430.16 560.8,431.7 C559.42,433.24 557.95,435.28 556.7,436.25 C555.45,437.22 553.87,437.29 553.3,437.5" fill="none" stroke="#111" stroke-width="2.0" stroke-linecap="round" stroke-linejoin="round"/>
<path d="M729.5,429.4 C730.77,429.85 734.17,430.75 737.1,432.1 C740.03,433.45 743.33,435.4 747.1,437.5 C750.87,439.6 755.8,442.45 759.7,444.7 C763.6,446.95 766.88,449.05 770.5,451 C774.12,452.95 778.38,455.12 781.4,456.4 C784.42,457.68 786.42,457.57 788.6,458.7 C790.78,459.83 793.52,462.45 794.5,463.2" fill="none" stroke="#111" stroke-width="2.0" stroke-linecap="round" stroke-linejoin="round"/>
<path d="M785.9,417.6 C785.45,418.5 784.55,420.88 783.2,423 C781.85,425.12 779.92,428.03 777.8,430.3 C775.68,432.57 773.37,434.2 770.5,436.6 C767.63,439 763.9,442.37 760.6,444.7 C757.3,447.03 753.55,448.95 750.7,450.6 C747.85,452.25 745.38,453.63 743.5,454.6 C741.62,455.57 740.08,456.1 739.4,456.4" fill="none" stroke="#111" stroke-width="2.0" stroke-linecap="round" stroke-linejoin="round"/>
<path d="M867.6,412.6 C868.43,412.85 870.88,413.02 872.6,414.1 C874.32,415.18 876,417.25 877.9,419.1 C879.8,420.95 881.97,423.23 884,425.2 C886.03,427.17 888.05,429.12 890.1,430.9 C892.15,432.68 894.25,434.23 896.3,435.9 C898.35,437.57 900.12,438.8 902.4,440.9 C904.68,443 908.73,447.23 910,448.5" fill="none" stroke="#111" stroke-width="2.0" stroke-linecap="round" stroke-linejoin="round"/>
<path d="M913,409.2 C912.63,409.97 912.07,412.02 910.8,413.8 C909.53,415.58 907.32,418.13 905.4,419.9 C903.48,421.67 901.85,422.62 899.3,424.4 C896.75,426.18 893.03,428.43 890.1,430.6 C887.17,432.77 884.62,435.75 881.7,437.4 C878.78,439.05 875.08,439.35 872.6,440.5 C870.12,441.65 867.77,443.67 866.8,444.3" fill="none" stroke="#111" stroke-width="2.0" stroke-linecap="round" stroke-linejoin="round"/>
<path d="M1038.2,416.4 C1038.55,414.6 1039.77,409.27 1040.3,405.6 C1040.83,401.93 1040.98,397.42 1041.4,394.4 C1041.82,391.38 1042.41,390.27 1042.8,387.5 C1043.19,384.73 1042.67,380.82 1043.75,377.8 C1044.83,374.78 1048.14,371.83 1049.3,369.4 C1050.46,366.97 1049.42,365.97 1050.7,363.2 C1051.98,360.43 1055.03,356.17 1057,352.8 C1058.97,349.43 1060.88,345.43 1062.5,343 C1064.12,340.57 1064.97,340.08 1066.7,338.2 C1068.43,336.32 1071.87,332.78 1072.9,331.7" fill="none" stroke="#111" stroke-width="2.0" stroke-linecap="round" stroke-linejoin="round"/>
<polygon points="1063,338.5 1073,331.5 1071,343.5 1069.5,337.5" fill="#111" stroke="#111" stroke-width="1.5" stroke-linejoin="round"/>
<path d="M1083.5,400.4 C1084.2,400.4 1085.78,399.88 1087.7,400.4 C1089.62,400.92 1092.4,402.11 1095,403.5 C1097.6,404.89 1101.05,407.7 1103.3,408.75 C1105.55,409.8 1106.42,409.11 1108.5,409.8 C1110.58,410.49 1113.45,411.25 1115.8,412.9 C1118.15,414.55 1121.38,417.1 1122.6,419.7 C1123.82,422.3 1123.7,425.82 1123.1,428.5 C1122.5,431.18 1120.56,433.37 1119,435.8 C1117.44,438.23 1115.5,441.27 1113.75,443.1 C1112,444.93 1110.06,445.83 1108.5,446.8 C1106.94,447.77 1106.22,447.95 1104.4,448.9 C1102.58,449.85 1098.73,451.9 1097.6,452.5" fill="none" stroke="#111" stroke-width="2.0" stroke-linecap="round" stroke-linejoin="round"/>
<g transform="translate(757.2,426.4) rotate(44.5)"><path d="M0,0 L5.5,-3.4 L27,-3.4 L27,3.4 L5.5,3.4 Z" fill="#fff" stroke="#111" stroke-width="1.2" stroke-linejoin="round"/><line x1="5.5" y1="-3.4" x2="5.5" y2="3.4" stroke="#111" stroke-width="0.8"/><line x1="7" y1="-1" x2="21" y2="-1" stroke="#111" stroke-width="0.6"/><line x1="7" y1="1" x2="21" y2="1" stroke="#111" stroke-width="0.6"/><line x1="21.5" y1="-3.4" x2="21.5" y2="3.4" stroke="#111" stroke-width="0.8"/><path d="M0,0 L2.2,-1.3 L2.2,1.3 Z" fill="#111"/></g>
<line x1="479.2" y1="455.3" x2="483" y2="455.3" stroke="#e2462c" stroke-width="1.2"/>
<line x1="822.3" y1="160.5" x2="826" y2="160.5" stroke="#1f9d4e" stroke-width="1.2"/>
<line x1="1138.4" y1="68.4" x2="1138.4" y2="645.3" stroke="#cfcfcf" stroke-width="1.2"/>
<text x="1152.3" y="138.8" font-size="11.6" fill="#777">3.000</text>
<text x="1152.3" y="204.2" font-size="11.6" fill="#777">2.800</text>
<text x="1152.3" y="269.6" font-size="11.6" fill="#777">2.600</text>
<text x="1152.3" y="335" font-size="11.6" fill="#777">2.400</text>
<text x="1152.3" y="531.2" font-size="11.6" fill="#777">1.800</text>
<text x="1148.8" y="593.4" font-size="11.6" fill="#777">1.00M</text>
<polygon points="1147.3,294.95 1152.2,286.6 1183.6,286.6 1183.6,303.3 1152.2,303.3" fill="#1733e6"/>
<text x="1167.9" y="299.05" font-size="11.8" font-weight="bold" fill="#fff" text-anchor="middle">2.510</text>
<polygon points="1147.3,338.5 1152.2,330.1 1183.6,330.1 1183.6,346.9 1152.2,346.9" fill="#bb1e2c"/>
<text x="1167.9" y="342.6" font-size="11.8" font-weight="bold" fill="#fff" text-anchor="middle">2.377</text>
<polygon points="1147.3,396.35 1151.9,388.1 1183.5,388.1 1183.5,404.6 1151.9,404.6" fill="#0c0c0c"/>
<text x="1167.7" y="400.45" font-size="11.8" font-weight="bold" fill="#fff" text-anchor="middle">2.200</text>
<polygon points="1147.3,421.45 1152.2,413.5 1183.6,413.5 1183.6,429.4 1152.2,429.4" fill="#e4432b"/>
<text x="1167.9" y="425.55" font-size="11.8" font-weight="bold" fill="#fff" text-anchor="middle">2.124</text>
<polygon points="1147.3,461.9 1152.2,453.8 1183.6,453.8 1183.6,470 1152.2,470" fill="#0c0c0c"/>
<text x="1167.9" y="466" font-size="11.8" font-weight="bold" fill="#fff" text-anchor="middle">2.000</text>
<polygon points="1143,573.1 1147.4,564.9 1182.8,564.9 1182.8,581.3 1147.4,581.3" fill="#b344d2"/>
<text x="1165.1" y="577.2" font-size="11.8" font-weight="bold" fill="#fff" text-anchor="middle">1.28M</text>
<polygon points="1143,645.65 1147.4,637.4 1182.8,637.4 1182.8,653.9 1147.4,653.9" fill="#e2402a"/>
<text x="1165.1" y="649.75" font-size="11.8" font-weight="bold" fill="#fff" text-anchor="middle">0.00M</text>
<text x="132.7" y="664.4" font-size="11.7" fill="#777" text-anchor="middle">May '19</text>
<text x="245.6" y="664.4" font-size="11.7" fill="#777" text-anchor="middle">Jun '19</text>
<text x="354" y="664.4" font-size="11.7" fill="#777" text-anchor="middle">Jul '19</text>
<text x="470" y="664.4" font-size="11.7" fill="#777" text-anchor="middle">Aug '19</text>
<text x="583.3" y="664.4" font-size="11.7" fill="#777" text-anchor="middle">Sep '19</text>
<text x="691.5" y="664.4" font-size="11.7" fill="#777" text-anchor="middle">Oct '19</text>
<text x="812.7" y="664.4" font-size="11.7" fill="#777" text-anchor="middle">Nov '19</text>
<text x="916" y="664.4" font-size="11.7" fill="#777" text-anchor="middle">Dec '19</text>
<text x="1026.4" y="664.4" font-size="11.7" fill="#777" text-anchor="middle">Jan '20</text>
<rect x="51" y="676.2" width="1084" height="14.6" fill="#f1f1f1"/>
<polygon points="57,684.4 60,682 60,686.8" fill="#555"/>
<rect x="816" y="676" width="306.5" height="14.8" fill="#d0d0d0"/>
<rect x="812.5" y="669.2" width="7" height="13.6" fill="#6c6c6c"/>
<rect x="814.3" y="672" width="3.4" height="8" fill="#b8b8b8"/>
<rect x="1119.8" y="669.2" width="7" height="13.4" fill="#6c6c6c"/>
<rect x="1121.6" y="671.8" width="1.1" height="8" fill="#d8d8d8"/>
<rect x="1123.9" y="671.8" width="1.1" height="8" fill="#d8d8d8"/>
<rect x="967.3" y="680.5" width="1" height="5.5" fill="#8a8a8a"/>
<rect x="969.5" y="680.5" width="1" height="5.5" fill="#8a8a8a"/>
<rect x="971.7" y="680.5" width="1" height="5.5" fill="#8a8a8a"/>
<polygon points="1130.5,680.5 1133.5,683 1130.5,685.5" fill="#555"/>
<rect x="0" y="552" width="22" height="168" fill="#fff"/>
<rect x="0" y="551.8" width="22.5" height="1" fill="#d8d8d8"/>
<rect x="0" y="552.5" width="15" height="16.3" fill="#c8c8c8"/>
<path d="M3.2,556.6 L11.6,565.4 M11.6,556.6 L3.2,565.4" stroke="#2a9fb6" stroke-width="1.4"/>
<defs><linearGradient id="skin" x1="0" y1="0" x2="1" y2="0"><stop offset="0" stop-color="#b67252"/><stop offset="0.5" stop-color="#c4805e"/><stop offset="0.85" stop-color="#b06c4c"/><stop offset="1" stop-color="#8d5038"/></linearGradient></defs>
<path d="M0,585.8 C4,586 7,590 9,598 C11.5,610 11.6,628 10.5,645 C9.3,665 6.5,690 2.7,720 L0,720 Z" fill="url(#skin)"/>
</svg>
</body></html>
